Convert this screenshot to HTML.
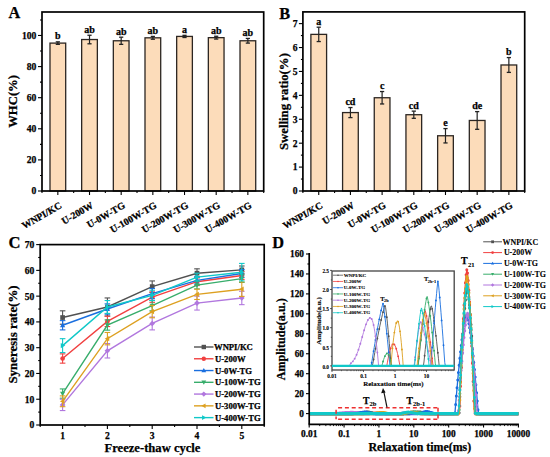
<!DOCTYPE html>
<html><head><meta charset="utf-8"><style>
html,body{margin:0;padding:0;background:#fff;}
svg{display:block;}
text{font-family:"Liberation Serif", serif;stroke:#000;stroke-width:0.25px;paint-order:stroke;}
</style></head><body>
<svg width="550" height="457" viewBox="0 0 550 457">
<rect width="550" height="457" fill="#fff"/>
<rect x="49.99" y="43.1" width="15.7" height="147.9" fill="#FCDCBA" stroke="#2c2622" stroke-width="1.3"/>
<line x1="57.84" y1="41.86" x2="57.84" y2="44.35" stroke="#222" stroke-width="1.2" />
<line x1="55.74" y1="41.86" x2="59.94" y2="41.86" stroke="#222" stroke-width="1.3" />
<line x1="55.74" y1="44.35" x2="59.94" y2="44.35" stroke="#222" stroke-width="1.3" />
<text x="57.84" y="39.26" font-size="10" text-anchor="middle" font-weight="bold" fill="#000" >b</text>
<rect x="81.66" y="39.53" width="15.7" height="151.47" fill="#FCDCBA" stroke="#2c2622" stroke-width="1.3"/>
<line x1="89.51" y1="35.25" x2="89.51" y2="43.8" stroke="#222" stroke-width="1.2" />
<line x1="87.41" y1="35.25" x2="91.61" y2="35.25" stroke="#222" stroke-width="1.3" />
<line x1="87.41" y1="43.8" x2="91.61" y2="43.8" stroke="#222" stroke-width="1.3" />
<text x="89.51" y="32.65" font-size="10" text-anchor="middle" font-weight="bold" fill="#000" >ab</text>
<rect x="113.33" y="40.77" width="15.7" height="150.23" fill="#FCDCBA" stroke="#2c2622" stroke-width="1.3"/>
<line x1="121.18" y1="37.19" x2="121.18" y2="44.35" stroke="#222" stroke-width="1.2" />
<line x1="119.08" y1="37.19" x2="123.28" y2="37.19" stroke="#222" stroke-width="1.3" />
<line x1="119.08" y1="44.35" x2="123.28" y2="44.35" stroke="#222" stroke-width="1.3" />
<text x="121.18" y="34.59" font-size="10" text-anchor="middle" font-weight="bold" fill="#000" >ab</text>
<rect x="145" y="37.82" width="15.7" height="153.18" fill="#FCDCBA" stroke="#2c2622" stroke-width="1.3"/>
<line x1="152.85" y1="36.42" x2="152.85" y2="39.22" stroke="#222" stroke-width="1.2" />
<line x1="150.75" y1="36.42" x2="154.95" y2="36.42" stroke="#222" stroke-width="1.3" />
<line x1="150.75" y1="39.22" x2="154.95" y2="39.22" stroke="#222" stroke-width="1.3" />
<text x="152.85" y="33.82" font-size="10" text-anchor="middle" font-weight="bold" fill="#000" >ab</text>
<rect x="176.67" y="36.42" width="15.7" height="154.58" fill="#FCDCBA" stroke="#2c2622" stroke-width="1.3"/>
<line x1="184.52" y1="35.33" x2="184.52" y2="37.5" stroke="#222" stroke-width="1.2" />
<line x1="182.42" y1="35.33" x2="186.62" y2="35.33" stroke="#222" stroke-width="1.3" />
<line x1="182.42" y1="37.5" x2="186.62" y2="37.5" stroke="#222" stroke-width="1.3" />
<text x="184.52" y="32.73" font-size="10" text-anchor="middle" font-weight="bold" fill="#000" >a</text>
<rect x="208.34" y="37.66" width="15.7" height="153.34" fill="#FCDCBA" stroke="#2c2622" stroke-width="1.3"/>
<line x1="216.19" y1="36.26" x2="216.19" y2="39.06" stroke="#222" stroke-width="1.2" />
<line x1="214.09" y1="36.26" x2="218.29" y2="36.26" stroke="#222" stroke-width="1.3" />
<line x1="214.09" y1="39.06" x2="218.29" y2="39.06" stroke="#222" stroke-width="1.3" />
<text x="216.19" y="33.66" font-size="10" text-anchor="middle" font-weight="bold" fill="#000" >ab</text>
<rect x="240.01" y="40.77" width="15.7" height="150.23" fill="#FCDCBA" stroke="#2c2622" stroke-width="1.3"/>
<line x1="247.86" y1="38.44" x2="247.86" y2="43.1" stroke="#222" stroke-width="1.2" />
<line x1="245.76" y1="38.44" x2="249.96" y2="38.44" stroke="#222" stroke-width="1.3" />
<line x1="245.76" y1="43.1" x2="249.96" y2="43.1" stroke="#222" stroke-width="1.3" />
<text x="247.86" y="35.84" font-size="10" text-anchor="middle" font-weight="bold" fill="#000" >ab</text>
<rect x="42" y="12" width="221.7" height="179" fill="none" stroke="#000" stroke-width="1.7"/>
<line x1="38" y1="191" x2="42" y2="191" stroke="#000" stroke-width="1.1" />
<text x="36.3" y="194.4" font-size="9.6" text-anchor="end" font-weight="bold" fill="#000" >0</text>
<line x1="40" y1="175.45" x2="42" y2="175.45" stroke="#000" stroke-width="1.1" />
<line x1="38" y1="159.9" x2="42" y2="159.9" stroke="#000" stroke-width="1.1" />
<text x="36.3" y="163.3" font-size="9.6" text-anchor="end" font-weight="bold" fill="#000" >20</text>
<line x1="40" y1="144.34" x2="42" y2="144.34" stroke="#000" stroke-width="1.1" />
<line x1="38" y1="128.79" x2="42" y2="128.79" stroke="#000" stroke-width="1.1" />
<text x="36.3" y="132.19" font-size="9.6" text-anchor="end" font-weight="bold" fill="#000" >40</text>
<line x1="40" y1="113.24" x2="42" y2="113.24" stroke="#000" stroke-width="1.1" />
<line x1="38" y1="97.69" x2="42" y2="97.69" stroke="#000" stroke-width="1.1" />
<text x="36.3" y="101.09" font-size="9.6" text-anchor="end" font-weight="bold" fill="#000" >60</text>
<line x1="40" y1="82.14" x2="42" y2="82.14" stroke="#000" stroke-width="1.1" />
<line x1="38" y1="66.59" x2="42" y2="66.59" stroke="#000" stroke-width="1.1" />
<text x="36.3" y="69.99" font-size="9.6" text-anchor="end" font-weight="bold" fill="#000" >80</text>
<line x1="40" y1="51.03" x2="42" y2="51.03" stroke="#000" stroke-width="1.1" />
<line x1="38" y1="35.48" x2="42" y2="35.48" stroke="#000" stroke-width="1.1" />
<text x="36.3" y="38.88" font-size="9.6" text-anchor="end" font-weight="bold" fill="#000" >100</text>
<line x1="40" y1="19.93" x2="42" y2="19.93" stroke="#000" stroke-width="1.1" />
<line x1="42" y1="191" x2="42" y2="193" stroke="#000" stroke-width="1.1" />
<line x1="73.67" y1="191" x2="73.67" y2="193" stroke="#000" stroke-width="1.1" />
<line x1="105.34" y1="191" x2="105.34" y2="193" stroke="#000" stroke-width="1.1" />
<line x1="137.01" y1="191" x2="137.01" y2="193" stroke="#000" stroke-width="1.1" />
<line x1="168.69" y1="191" x2="168.69" y2="193" stroke="#000" stroke-width="1.1" />
<line x1="200.36" y1="191" x2="200.36" y2="193" stroke="#000" stroke-width="1.1" />
<line x1="232.03" y1="191" x2="232.03" y2="193" stroke="#000" stroke-width="1.1" />
<line x1="263.7" y1="191" x2="263.7" y2="193" stroke="#000" stroke-width="1.1" />
<line x1="57.84" y1="191" x2="57.84" y2="195" stroke="#000" stroke-width="1.1" />
<text transform="translate(62.44,207.3) rotate(-30)" font-size="9.8" text-anchor="end" font-weight="bold">WNPI/KC</text>
<line x1="89.51" y1="191" x2="89.51" y2="195" stroke="#000" stroke-width="1.1" />
<text transform="translate(94.11,207.3) rotate(-30)" font-size="9.8" text-anchor="end" font-weight="bold">U-200W</text>
<line x1="121.18" y1="191" x2="121.18" y2="195" stroke="#000" stroke-width="1.1" />
<text transform="translate(125.78,207.3) rotate(-30)" font-size="9.8" text-anchor="end" font-weight="bold">U-0W-TG</text>
<line x1="152.85" y1="191" x2="152.85" y2="195" stroke="#000" stroke-width="1.1" />
<text transform="translate(157.45,207.3) rotate(-30)" font-size="9.8" text-anchor="end" font-weight="bold">U-100W-TG</text>
<line x1="184.52" y1="191" x2="184.52" y2="195" stroke="#000" stroke-width="1.1" />
<text transform="translate(189.12,207.3) rotate(-30)" font-size="9.8" text-anchor="end" font-weight="bold">U-200W-TG</text>
<line x1="216.19" y1="191" x2="216.19" y2="195" stroke="#000" stroke-width="1.1" />
<text transform="translate(220.79,207.3) rotate(-30)" font-size="9.8" text-anchor="end" font-weight="bold">U-300W-TG</text>
<line x1="247.86" y1="191" x2="247.86" y2="195" stroke="#000" stroke-width="1.1" />
<text transform="translate(252.46,207.3) rotate(-30)" font-size="9.8" text-anchor="end" font-weight="bold">U-400W-TG</text>
<text transform="translate(16.7,101.4) rotate(-90)" font-size="12.7" text-anchor="middle" font-weight="bold">WHC(%)</text>
<text x="8.6" y="17.8" font-size="16.3" text-anchor="start" font-weight="bold" fill="#000" >A</text>
<rect x="310.89" y="34.38" width="15.7" height="156.62" fill="#FCDCBA" stroke="#2c2622" stroke-width="1.3"/>
<line x1="318.74" y1="27.2" x2="318.74" y2="41.55" stroke="#222" stroke-width="1.2" />
<line x1="316.64" y1="27.2" x2="320.84" y2="27.2" stroke="#222" stroke-width="1.3" />
<line x1="316.64" y1="41.55" x2="320.84" y2="41.55" stroke="#222" stroke-width="1.3" />
<text x="318.74" y="24.6" font-size="10" text-anchor="middle" font-weight="bold" fill="#000" >a</text>
<rect x="342.58" y="112.57" width="15.7" height="78.43" fill="#FCDCBA" stroke="#2c2622" stroke-width="1.3"/>
<line x1="350.43" y1="107.55" x2="350.43" y2="117.59" stroke="#222" stroke-width="1.2" />
<line x1="348.33" y1="107.55" x2="352.53" y2="107.55" stroke="#222" stroke-width="1.3" />
<line x1="348.33" y1="117.59" x2="352.53" y2="117.59" stroke="#222" stroke-width="1.3" />
<text x="350.43" y="104.95" font-size="10" text-anchor="middle" font-weight="bold" fill="#000" >cd</text>
<rect x="374.26" y="97.74" width="15.7" height="93.26" fill="#FCDCBA" stroke="#2c2622" stroke-width="1.3"/>
<line x1="382.11" y1="91.53" x2="382.11" y2="103.96" stroke="#222" stroke-width="1.2" />
<line x1="380.01" y1="91.53" x2="384.21" y2="91.53" stroke="#222" stroke-width="1.3" />
<line x1="380.01" y1="103.96" x2="384.21" y2="103.96" stroke="#222" stroke-width="1.3" />
<text x="382.11" y="88.93" font-size="10" text-anchor="middle" font-weight="bold" fill="#000" >c</text>
<rect x="405.95" y="114.72" width="15.7" height="76.28" fill="#FCDCBA" stroke="#2c2622" stroke-width="1.3"/>
<line x1="413.8" y1="111.13" x2="413.8" y2="118.31" stroke="#222" stroke-width="1.2" />
<line x1="411.7" y1="111.13" x2="415.9" y2="111.13" stroke="#222" stroke-width="1.3" />
<line x1="411.7" y1="118.31" x2="415.9" y2="118.31" stroke="#222" stroke-width="1.3" />
<text x="413.8" y="108.53" font-size="10" text-anchor="middle" font-weight="bold" fill="#000" >cd</text>
<rect x="437.64" y="135.76" width="15.7" height="55.24" fill="#FCDCBA" stroke="#2c2622" stroke-width="1.3"/>
<line x1="445.49" y1="128.59" x2="445.49" y2="142.94" stroke="#222" stroke-width="1.2" />
<line x1="443.39" y1="128.59" x2="447.59" y2="128.59" stroke="#222" stroke-width="1.3" />
<line x1="443.39" y1="142.94" x2="447.59" y2="142.94" stroke="#222" stroke-width="1.3" />
<text x="445.49" y="125.99" font-size="10" text-anchor="middle" font-weight="bold" fill="#000" >e</text>
<rect x="469.32" y="120.46" width="15.7" height="70.54" fill="#FCDCBA" stroke="#2c2622" stroke-width="1.3"/>
<line x1="477.17" y1="111.61" x2="477.17" y2="129.31" stroke="#222" stroke-width="1.2" />
<line x1="475.07" y1="111.61" x2="479.27" y2="111.61" stroke="#222" stroke-width="1.3" />
<line x1="475.07" y1="129.31" x2="479.27" y2="129.31" stroke="#222" stroke-width="1.3" />
<text x="477.17" y="109.01" font-size="10" text-anchor="middle" font-weight="bold" fill="#000" >de</text>
<rect x="501.01" y="64.98" width="15.7" height="126.02" fill="#FCDCBA" stroke="#2c2622" stroke-width="1.3"/>
<line x1="508.86" y1="57.57" x2="508.86" y2="72.4" stroke="#222" stroke-width="1.2" />
<line x1="506.76" y1="57.57" x2="510.96" y2="57.57" stroke="#222" stroke-width="1.3" />
<line x1="506.76" y1="72.4" x2="510.96" y2="72.4" stroke="#222" stroke-width="1.3" />
<text x="508.86" y="54.97" font-size="10" text-anchor="middle" font-weight="bold" fill="#000" >b</text>
<rect x="302.9" y="11.9" width="221.8" height="179.1" fill="none" stroke="#000" stroke-width="1.7"/>
<line x1="298.9" y1="191" x2="302.9" y2="191" stroke="#000" stroke-width="1.1" />
<text x="297.6" y="194.4" font-size="9.6" text-anchor="end" font-weight="bold" fill="#000" >0</text>
<line x1="300.9" y1="179.04" x2="302.9" y2="179.04" stroke="#000" stroke-width="1.1" />
<line x1="298.9" y1="167.09" x2="302.9" y2="167.09" stroke="#000" stroke-width="1.1" />
<text x="297.6" y="170.49" font-size="9.6" text-anchor="end" font-weight="bold" fill="#000" >1</text>
<line x1="300.9" y1="155.13" x2="302.9" y2="155.13" stroke="#000" stroke-width="1.1" />
<line x1="298.9" y1="143.18" x2="302.9" y2="143.18" stroke="#000" stroke-width="1.1" />
<text x="297.6" y="146.58" font-size="9.6" text-anchor="end" font-weight="bold" fill="#000" >2</text>
<line x1="300.9" y1="131.22" x2="302.9" y2="131.22" stroke="#000" stroke-width="1.1" />
<line x1="298.9" y1="119.26" x2="302.9" y2="119.26" stroke="#000" stroke-width="1.1" />
<text x="297.6" y="122.66" font-size="9.6" text-anchor="end" font-weight="bold" fill="#000" >3</text>
<line x1="300.9" y1="107.31" x2="302.9" y2="107.31" stroke="#000" stroke-width="1.1" />
<line x1="298.9" y1="95.35" x2="302.9" y2="95.35" stroke="#000" stroke-width="1.1" />
<text x="297.6" y="98.75" font-size="9.6" text-anchor="end" font-weight="bold" fill="#000" >4</text>
<line x1="300.9" y1="83.4" x2="302.9" y2="83.4" stroke="#000" stroke-width="1.1" />
<line x1="298.9" y1="71.44" x2="302.9" y2="71.44" stroke="#000" stroke-width="1.1" />
<text x="297.6" y="74.84" font-size="9.6" text-anchor="end" font-weight="bold" fill="#000" >5</text>
<line x1="300.9" y1="59.48" x2="302.9" y2="59.48" stroke="#000" stroke-width="1.1" />
<line x1="298.9" y1="47.53" x2="302.9" y2="47.53" stroke="#000" stroke-width="1.1" />
<text x="297.6" y="50.93" font-size="9.6" text-anchor="end" font-weight="bold" fill="#000" >6</text>
<line x1="300.9" y1="35.57" x2="302.9" y2="35.57" stroke="#000" stroke-width="1.1" />
<line x1="298.9" y1="23.62" x2="302.9" y2="23.62" stroke="#000" stroke-width="1.1" />
<text x="297.6" y="27.02" font-size="9.6" text-anchor="end" font-weight="bold" fill="#000" >7</text>
<line x1="302.9" y1="191" x2="302.9" y2="193" stroke="#000" stroke-width="1.1" />
<line x1="334.59" y1="191" x2="334.59" y2="193" stroke="#000" stroke-width="1.1" />
<line x1="366.27" y1="191" x2="366.27" y2="193" stroke="#000" stroke-width="1.1" />
<line x1="397.96" y1="191" x2="397.96" y2="193" stroke="#000" stroke-width="1.1" />
<line x1="429.64" y1="191" x2="429.64" y2="193" stroke="#000" stroke-width="1.1" />
<line x1="461.33" y1="191" x2="461.33" y2="193" stroke="#000" stroke-width="1.1" />
<line x1="493.01" y1="191" x2="493.01" y2="193" stroke="#000" stroke-width="1.1" />
<line x1="524.7" y1="191" x2="524.7" y2="193" stroke="#000" stroke-width="1.1" />
<line x1="318.74" y1="191" x2="318.74" y2="195" stroke="#000" stroke-width="1.1" />
<text transform="translate(323.34,207.3) rotate(-30)" font-size="9.8" text-anchor="end" font-weight="bold">WNPI/KC</text>
<line x1="350.43" y1="191" x2="350.43" y2="195" stroke="#000" stroke-width="1.1" />
<text transform="translate(355.03,207.3) rotate(-30)" font-size="9.8" text-anchor="end" font-weight="bold">U-200W</text>
<line x1="382.11" y1="191" x2="382.11" y2="195" stroke="#000" stroke-width="1.1" />
<text transform="translate(386.71,207.3) rotate(-30)" font-size="9.8" text-anchor="end" font-weight="bold">U-0W-TG</text>
<line x1="413.8" y1="191" x2="413.8" y2="195" stroke="#000" stroke-width="1.1" />
<text transform="translate(418.4,207.3) rotate(-30)" font-size="9.8" text-anchor="end" font-weight="bold">U-100W-TG</text>
<line x1="445.49" y1="191" x2="445.49" y2="195" stroke="#000" stroke-width="1.1" />
<text transform="translate(450.09,207.3) rotate(-30)" font-size="9.8" text-anchor="end" font-weight="bold">U-200W-TG</text>
<line x1="477.17" y1="191" x2="477.17" y2="195" stroke="#000" stroke-width="1.1" />
<text transform="translate(481.77,207.3) rotate(-30)" font-size="9.8" text-anchor="end" font-weight="bold">U-300W-TG</text>
<line x1="508.86" y1="191" x2="508.86" y2="195" stroke="#000" stroke-width="1.1" />
<text transform="translate(513.46,207.3) rotate(-30)" font-size="9.8" text-anchor="end" font-weight="bold">U-400W-TG</text>
<text transform="translate(288.2,101.6) rotate(-90)" font-size="12.8" text-anchor="middle" font-weight="bold">Swelling ratio(%)</text>
<text x="279.3" y="18.6" font-size="16.3" text-anchor="start" font-weight="bold" fill="#000" >B</text>
<polyline points="62.6,317.53 107.4,306.97 152.2,286.61 197,273.21 241.8,269.86" fill="none" stroke="#515151" stroke-width="1.4"/>
<line x1="62.6" y1="310.83" x2="62.6" y2="324.23" stroke="#515151" stroke-width="1.1" />
<line x1="59.8" y1="310.83" x2="65.4" y2="310.83" stroke="#515151" stroke-width="1.1" />
<line x1="59.8" y1="324.23" x2="65.4" y2="324.23" stroke="#515151" stroke-width="1.1" />
<rect x="60.25" y="315.18" width="4.7" height="4.7" fill="#515151"/>
<line x1="107.4" y1="297.95" x2="107.4" y2="315.99" stroke="#515151" stroke-width="1.1" />
<line x1="104.6" y1="297.95" x2="110.2" y2="297.95" stroke="#515151" stroke-width="1.1" />
<line x1="104.6" y1="315.99" x2="110.2" y2="315.99" stroke="#515151" stroke-width="1.1" />
<rect x="105.05" y="304.62" width="4.7" height="4.7" fill="#515151"/>
<line x1="152.2" y1="280.94" x2="152.2" y2="292.28" stroke="#515151" stroke-width="1.1" />
<line x1="149.4" y1="280.94" x2="155" y2="280.94" stroke="#515151" stroke-width="1.1" />
<line x1="149.4" y1="292.28" x2="155" y2="292.28" stroke="#515151" stroke-width="1.1" />
<rect x="149.85" y="284.26" width="4.7" height="4.7" fill="#515151"/>
<line x1="197" y1="268.83" x2="197" y2="277.59" stroke="#515151" stroke-width="1.1" />
<line x1="194.2" y1="268.83" x2="199.8" y2="268.83" stroke="#515151" stroke-width="1.1" />
<line x1="194.2" y1="277.59" x2="199.8" y2="277.59" stroke="#515151" stroke-width="1.1" />
<rect x="194.65" y="270.86" width="4.7" height="4.7" fill="#515151"/>
<line x1="241.8" y1="265.99" x2="241.8" y2="273.72" stroke="#515151" stroke-width="1.1" />
<line x1="239" y1="265.99" x2="244.6" y2="265.99" stroke="#515151" stroke-width="1.1" />
<line x1="239" y1="273.72" x2="244.6" y2="273.72" stroke="#515151" stroke-width="1.1" />
<rect x="239.45" y="267.51" width="4.7" height="4.7" fill="#515151"/>
<polyline points="62.6,358.51 107.4,321.4 152.2,297.17 197,281.71 241.8,275.53" fill="none" stroke="#F14040" stroke-width="1.4"/>
<line x1="62.6" y1="353.87" x2="62.6" y2="363.15" stroke="#F14040" stroke-width="1.1" />
<line x1="59.8" y1="353.87" x2="65.4" y2="353.87" stroke="#F14040" stroke-width="1.1" />
<line x1="59.8" y1="363.15" x2="65.4" y2="363.15" stroke="#F14040" stroke-width="1.1" />
<circle cx="62.6" cy="358.51" r="2.35" fill="#F14040"/>
<line x1="107.4" y1="316.24" x2="107.4" y2="326.55" stroke="#F14040" stroke-width="1.1" />
<line x1="104.6" y1="316.24" x2="110.2" y2="316.24" stroke="#F14040" stroke-width="1.1" />
<line x1="104.6" y1="326.55" x2="110.2" y2="326.55" stroke="#F14040" stroke-width="1.1" />
<circle cx="107.4" cy="321.4" r="2.35" fill="#F14040"/>
<line x1="152.2" y1="292.02" x2="152.2" y2="302.33" stroke="#F14040" stroke-width="1.1" />
<line x1="149.4" y1="292.02" x2="155" y2="292.02" stroke="#F14040" stroke-width="1.1" />
<line x1="149.4" y1="302.33" x2="155" y2="302.33" stroke="#F14040" stroke-width="1.1" />
<circle cx="152.2" cy="297.17" r="2.35" fill="#F14040"/>
<line x1="197" y1="277.85" x2="197" y2="285.58" stroke="#F14040" stroke-width="1.1" />
<line x1="194.2" y1="277.85" x2="199.8" y2="277.85" stroke="#F14040" stroke-width="1.1" />
<line x1="194.2" y1="285.58" x2="199.8" y2="285.58" stroke="#F14040" stroke-width="1.1" />
<circle cx="197" cy="281.71" r="2.35" fill="#F14040"/>
<line x1="241.8" y1="271.66" x2="241.8" y2="279.39" stroke="#F14040" stroke-width="1.1" />
<line x1="239" y1="271.66" x2="244.6" y2="271.66" stroke="#F14040" stroke-width="1.1" />
<line x1="239" y1="279.39" x2="244.6" y2="279.39" stroke="#F14040" stroke-width="1.1" />
<circle cx="241.8" cy="275.53" r="2.35" fill="#F14040"/>
<polyline points="62.6,325.26 107.4,309.03 152.2,293.57 197,280.42 241.8,273.46" fill="none" stroke="#1A6FDF" stroke-width="1.4"/>
<line x1="62.6" y1="320.63" x2="62.6" y2="329.9" stroke="#1A6FDF" stroke-width="1.1" />
<line x1="59.8" y1="320.63" x2="65.4" y2="320.63" stroke="#1A6FDF" stroke-width="1.1" />
<line x1="59.8" y1="329.9" x2="65.4" y2="329.9" stroke="#1A6FDF" stroke-width="1.1" />
<polygon points="62.6,322.56 65.19,327.14 60.02,327.14" fill="#1A6FDF"/>
<line x1="107.4" y1="303.87" x2="107.4" y2="314.18" stroke="#1A6FDF" stroke-width="1.1" />
<line x1="104.6" y1="303.87" x2="110.2" y2="303.87" stroke="#1A6FDF" stroke-width="1.1" />
<line x1="104.6" y1="314.18" x2="110.2" y2="314.18" stroke="#1A6FDF" stroke-width="1.1" />
<polygon points="107.4,306.33 109.98,310.91 104.82,310.91" fill="#1A6FDF"/>
<line x1="152.2" y1="288.41" x2="152.2" y2="298.72" stroke="#1A6FDF" stroke-width="1.1" />
<line x1="149.4" y1="288.41" x2="155" y2="288.41" stroke="#1A6FDF" stroke-width="1.1" />
<line x1="149.4" y1="298.72" x2="155" y2="298.72" stroke="#1A6FDF" stroke-width="1.1" />
<polygon points="152.2,290.86 154.78,295.45 149.61,295.45" fill="#1A6FDF"/>
<line x1="197" y1="276.56" x2="197" y2="284.29" stroke="#1A6FDF" stroke-width="1.1" />
<line x1="194.2" y1="276.56" x2="199.8" y2="276.56" stroke="#1A6FDF" stroke-width="1.1" />
<line x1="194.2" y1="284.29" x2="199.8" y2="284.29" stroke="#1A6FDF" stroke-width="1.1" />
<polygon points="197,277.72 199.59,282.3 194.41,282.3" fill="#1A6FDF"/>
<line x1="241.8" y1="269.6" x2="241.8" y2="277.33" stroke="#1A6FDF" stroke-width="1.1" />
<line x1="239" y1="269.6" x2="244.6" y2="269.6" stroke="#1A6FDF" stroke-width="1.1" />
<line x1="239" y1="277.33" x2="244.6" y2="277.33" stroke="#1A6FDF" stroke-width="1.1" />
<polygon points="241.8,270.76 244.39,275.34 239.22,275.34" fill="#1A6FDF"/>
<polyline points="62.6,393.56 107.4,325.01 152.2,305.68 197,285.06 241.8,278.62" fill="none" stroke="#37AD6B" stroke-width="1.4"/>
<line x1="62.6" y1="388.92" x2="62.6" y2="398.2" stroke="#37AD6B" stroke-width="1.1" />
<line x1="59.8" y1="388.92" x2="65.4" y2="388.92" stroke="#37AD6B" stroke-width="1.1" />
<line x1="59.8" y1="398.2" x2="65.4" y2="398.2" stroke="#37AD6B" stroke-width="1.1" />
<polygon points="62.6,396.26 65.19,391.68 60.02,391.68" fill="#37AD6B"/>
<line x1="107.4" y1="319.85" x2="107.4" y2="330.16" stroke="#37AD6B" stroke-width="1.1" />
<line x1="104.6" y1="319.85" x2="110.2" y2="319.85" stroke="#37AD6B" stroke-width="1.1" />
<line x1="104.6" y1="330.16" x2="110.2" y2="330.16" stroke="#37AD6B" stroke-width="1.1" />
<polygon points="107.4,327.71 109.98,323.13 104.82,323.13" fill="#37AD6B"/>
<line x1="152.2" y1="300.52" x2="152.2" y2="310.83" stroke="#37AD6B" stroke-width="1.1" />
<line x1="149.4" y1="300.52" x2="155" y2="300.52" stroke="#37AD6B" stroke-width="1.1" />
<line x1="149.4" y1="310.83" x2="155" y2="310.83" stroke="#37AD6B" stroke-width="1.1" />
<polygon points="152.2,308.38 154.78,303.8 149.61,303.8" fill="#37AD6B"/>
<line x1="197" y1="281.2" x2="197" y2="288.93" stroke="#37AD6B" stroke-width="1.1" />
<line x1="194.2" y1="281.2" x2="199.8" y2="281.2" stroke="#37AD6B" stroke-width="1.1" />
<line x1="194.2" y1="288.93" x2="199.8" y2="288.93" stroke="#37AD6B" stroke-width="1.1" />
<polygon points="197,287.76 199.59,283.18 194.41,283.18" fill="#37AD6B"/>
<line x1="241.8" y1="274.75" x2="241.8" y2="282.48" stroke="#37AD6B" stroke-width="1.1" />
<line x1="239" y1="274.75" x2="244.6" y2="274.75" stroke="#37AD6B" stroke-width="1.1" />
<line x1="239" y1="282.48" x2="244.6" y2="282.48" stroke="#37AD6B" stroke-width="1.1" />
<polygon points="241.8,281.32 244.39,276.74 239.22,276.74" fill="#37AD6B"/>
<polyline points="62.6,404.9 107.4,350.78 152.2,323.46 197,303.1 241.8,297.95" fill="none" stroke="#B177DE" stroke-width="1.4"/>
<line x1="62.6" y1="399.23" x2="62.6" y2="410.57" stroke="#B177DE" stroke-width="1.1" />
<line x1="59.8" y1="399.23" x2="65.4" y2="399.23" stroke="#B177DE" stroke-width="1.1" />
<line x1="59.8" y1="410.57" x2="65.4" y2="410.57" stroke="#B177DE" stroke-width="1.1" />
<polygon points="62.6,402.08 65.42,404.9 62.6,407.72 59.78,404.9" fill="#B177DE"/>
<line x1="107.4" y1="343.56" x2="107.4" y2="357.99" stroke="#B177DE" stroke-width="1.1" />
<line x1="104.6" y1="343.56" x2="110.2" y2="343.56" stroke="#B177DE" stroke-width="1.1" />
<line x1="104.6" y1="357.99" x2="110.2" y2="357.99" stroke="#B177DE" stroke-width="1.1" />
<polygon points="107.4,347.96 110.22,350.78 107.4,353.6 104.58,350.78" fill="#B177DE"/>
<line x1="152.2" y1="317.02" x2="152.2" y2="329.9" stroke="#B177DE" stroke-width="1.1" />
<line x1="149.4" y1="317.02" x2="155" y2="317.02" stroke="#B177DE" stroke-width="1.1" />
<line x1="149.4" y1="329.9" x2="155" y2="329.9" stroke="#B177DE" stroke-width="1.1" />
<polygon points="152.2,320.64 155.02,323.46 152.2,326.28 149.38,323.46" fill="#B177DE"/>
<line x1="197" y1="296.14" x2="197" y2="310.06" stroke="#B177DE" stroke-width="1.1" />
<line x1="194.2" y1="296.14" x2="199.8" y2="296.14" stroke="#B177DE" stroke-width="1.1" />
<line x1="194.2" y1="310.06" x2="199.8" y2="310.06" stroke="#B177DE" stroke-width="1.1" />
<polygon points="197,300.28 199.82,303.1 197,305.92 194.18,303.1" fill="#B177DE"/>
<line x1="241.8" y1="291.25" x2="241.8" y2="304.65" stroke="#B177DE" stroke-width="1.1" />
<line x1="239" y1="291.25" x2="244.6" y2="291.25" stroke="#B177DE" stroke-width="1.1" />
<line x1="239" y1="304.65" x2="244.6" y2="304.65" stroke="#B177DE" stroke-width="1.1" />
<polygon points="241.8,295.13 244.62,297.95 241.8,300.77 238.98,297.95" fill="#B177DE"/>
<polyline points="62.6,401.29 107.4,338.67 152.2,311.61 197,294.34 241.8,289.18" fill="none" stroke="#DDA020" stroke-width="1.4"/>
<line x1="62.6" y1="395.88" x2="62.6" y2="406.7" stroke="#DDA020" stroke-width="1.1" />
<line x1="59.8" y1="395.88" x2="65.4" y2="395.88" stroke="#DDA020" stroke-width="1.1" />
<line x1="59.8" y1="406.7" x2="65.4" y2="406.7" stroke="#DDA020" stroke-width="1.1" />
<polygon points="59.9,401.29 64.48,398.71 64.48,403.88" fill="#DDA020"/>
<line x1="107.4" y1="332.48" x2="107.4" y2="344.85" stroke="#DDA020" stroke-width="1.1" />
<line x1="104.6" y1="332.48" x2="110.2" y2="332.48" stroke="#DDA020" stroke-width="1.1" />
<line x1="104.6" y1="344.85" x2="110.2" y2="344.85" stroke="#DDA020" stroke-width="1.1" />
<polygon points="104.7,338.67 109.28,336.08 109.28,341.25" fill="#DDA020"/>
<line x1="152.2" y1="305.42" x2="152.2" y2="317.79" stroke="#DDA020" stroke-width="1.1" />
<line x1="149.4" y1="305.42" x2="155" y2="305.42" stroke="#DDA020" stroke-width="1.1" />
<line x1="149.4" y1="317.79" x2="155" y2="317.79" stroke="#DDA020" stroke-width="1.1" />
<polygon points="149.5,311.61 154.08,309.02 154.08,314.19" fill="#DDA020"/>
<line x1="197" y1="289.18" x2="197" y2="299.49" stroke="#DDA020" stroke-width="1.1" />
<line x1="194.2" y1="289.18" x2="199.8" y2="289.18" stroke="#DDA020" stroke-width="1.1" />
<line x1="194.2" y1="299.49" x2="199.8" y2="299.49" stroke="#DDA020" stroke-width="1.1" />
<polygon points="194.3,294.34 198.88,291.75 198.88,296.92" fill="#DDA020"/>
<line x1="241.8" y1="281.97" x2="241.8" y2="296.4" stroke="#DDA020" stroke-width="1.1" />
<line x1="239" y1="281.97" x2="244.6" y2="281.97" stroke="#DDA020" stroke-width="1.1" />
<line x1="239" y1="296.4" x2="244.6" y2="296.4" stroke="#DDA020" stroke-width="1.1" />
<polygon points="239.1,289.18 243.68,286.6 243.68,291.77" fill="#DDA020"/>
<polyline points="62.6,345.62 107.4,306.97 152.2,295.37 197,277.07 241.8,272.18" fill="none" stroke="#10C8C8" stroke-width="1.4"/>
<line x1="62.6" y1="338.67" x2="62.6" y2="352.58" stroke="#10C8C8" stroke-width="1.1" />
<line x1="59.8" y1="338.67" x2="65.4" y2="338.67" stroke="#10C8C8" stroke-width="1.1" />
<line x1="59.8" y1="352.58" x2="65.4" y2="352.58" stroke="#10C8C8" stroke-width="1.1" />
<polygon points="65.3,345.62 60.72,343.04 60.72,348.21" fill="#10C8C8"/>
<line x1="107.4" y1="300.52" x2="107.4" y2="313.41" stroke="#10C8C8" stroke-width="1.1" />
<line x1="104.6" y1="300.52" x2="110.2" y2="300.52" stroke="#10C8C8" stroke-width="1.1" />
<line x1="104.6" y1="313.41" x2="110.2" y2="313.41" stroke="#10C8C8" stroke-width="1.1" />
<polygon points="110.1,306.97 105.52,304.38 105.52,309.55" fill="#10C8C8"/>
<line x1="152.2" y1="290.22" x2="152.2" y2="300.52" stroke="#10C8C8" stroke-width="1.1" />
<line x1="149.4" y1="290.22" x2="155" y2="290.22" stroke="#10C8C8" stroke-width="1.1" />
<line x1="149.4" y1="300.52" x2="155" y2="300.52" stroke="#10C8C8" stroke-width="1.1" />
<polygon points="154.9,295.37 150.32,292.78 150.32,297.95" fill="#10C8C8"/>
<line x1="197" y1="273.21" x2="197" y2="280.94" stroke="#10C8C8" stroke-width="1.1" />
<line x1="194.2" y1="273.21" x2="199.8" y2="273.21" stroke="#10C8C8" stroke-width="1.1" />
<line x1="194.2" y1="280.94" x2="199.8" y2="280.94" stroke="#10C8C8" stroke-width="1.1" />
<polygon points="199.7,277.07 195.12,274.49 195.12,279.66" fill="#10C8C8"/>
<line x1="241.8" y1="263.41" x2="241.8" y2="280.94" stroke="#10C8C8" stroke-width="1.1" />
<line x1="239" y1="263.41" x2="244.6" y2="263.41" stroke="#10C8C8" stroke-width="1.1" />
<line x1="239" y1="280.94" x2="244.6" y2="280.94" stroke="#10C8C8" stroke-width="1.1" />
<polygon points="244.5,272.18 239.92,269.59 239.92,274.76" fill="#10C8C8"/>
<rect x="40.2" y="244.6" width="224" height="180.4" fill="none" stroke="#000" stroke-width="1.7"/>
<line x1="36.2" y1="425" x2="40.2" y2="425" stroke="#000" stroke-width="1.1" />
<text x="34.3" y="428.4" font-size="9.6" text-anchor="end" font-weight="bold" fill="#000" >0</text>
<line x1="38.2" y1="412.11" x2="40.2" y2="412.11" stroke="#000" stroke-width="1.1" />
<line x1="36.2" y1="399.23" x2="40.2" y2="399.23" stroke="#000" stroke-width="1.1" />
<text x="34.3" y="402.63" font-size="9.6" text-anchor="end" font-weight="bold" fill="#000" >10</text>
<line x1="38.2" y1="386.34" x2="40.2" y2="386.34" stroke="#000" stroke-width="1.1" />
<line x1="36.2" y1="373.46" x2="40.2" y2="373.46" stroke="#000" stroke-width="1.1" />
<text x="34.3" y="376.86" font-size="9.6" text-anchor="end" font-weight="bold" fill="#000" >20</text>
<line x1="38.2" y1="360.57" x2="40.2" y2="360.57" stroke="#000" stroke-width="1.1" />
<line x1="36.2" y1="347.69" x2="40.2" y2="347.69" stroke="#000" stroke-width="1.1" />
<text x="34.3" y="351.09" font-size="9.6" text-anchor="end" font-weight="bold" fill="#000" >30</text>
<line x1="38.2" y1="334.8" x2="40.2" y2="334.8" stroke="#000" stroke-width="1.1" />
<line x1="36.2" y1="321.91" x2="40.2" y2="321.91" stroke="#000" stroke-width="1.1" />
<text x="34.3" y="325.31" font-size="9.6" text-anchor="end" font-weight="bold" fill="#000" >40</text>
<line x1="38.2" y1="309.03" x2="40.2" y2="309.03" stroke="#000" stroke-width="1.1" />
<line x1="36.2" y1="296.14" x2="40.2" y2="296.14" stroke="#000" stroke-width="1.1" />
<text x="34.3" y="299.54" font-size="9.6" text-anchor="end" font-weight="bold" fill="#000" >50</text>
<line x1="38.2" y1="283.26" x2="40.2" y2="283.26" stroke="#000" stroke-width="1.1" />
<line x1="36.2" y1="270.37" x2="40.2" y2="270.37" stroke="#000" stroke-width="1.1" />
<text x="34.3" y="273.77" font-size="9.6" text-anchor="end" font-weight="bold" fill="#000" >60</text>
<line x1="38.2" y1="257.49" x2="40.2" y2="257.49" stroke="#000" stroke-width="1.1" />
<line x1="36.2" y1="244.6" x2="40.2" y2="244.6" stroke="#000" stroke-width="1.1" />
<text x="34.3" y="248" font-size="9.6" text-anchor="end" font-weight="bold" fill="#000" >70</text>
<line x1="40.2" y1="425" x2="40.2" y2="427" stroke="#000" stroke-width="1.1" />
<line x1="62.6" y1="425" x2="62.6" y2="429" stroke="#000" stroke-width="1.1" />
<text x="62.6" y="439.4" font-size="9.6" text-anchor="middle" font-weight="bold" fill="#000" >1</text>
<line x1="85" y1="425" x2="85" y2="427" stroke="#000" stroke-width="1.1" />
<line x1="107.4" y1="425" x2="107.4" y2="429" stroke="#000" stroke-width="1.1" />
<text x="107.4" y="439.4" font-size="9.6" text-anchor="middle" font-weight="bold" fill="#000" >2</text>
<line x1="129.8" y1="425" x2="129.8" y2="427" stroke="#000" stroke-width="1.1" />
<line x1="152.2" y1="425" x2="152.2" y2="429" stroke="#000" stroke-width="1.1" />
<text x="152.2" y="439.4" font-size="9.6" text-anchor="middle" font-weight="bold" fill="#000" >3</text>
<line x1="174.6" y1="425" x2="174.6" y2="427" stroke="#000" stroke-width="1.1" />
<line x1="197" y1="425" x2="197" y2="429" stroke="#000" stroke-width="1.1" />
<text x="197" y="439.4" font-size="9.6" text-anchor="middle" font-weight="bold" fill="#000" >4</text>
<line x1="219.4" y1="425" x2="219.4" y2="427" stroke="#000" stroke-width="1.1" />
<line x1="241.8" y1="425" x2="241.8" y2="429" stroke="#000" stroke-width="1.1" />
<text x="241.8" y="439.4" font-size="9.6" text-anchor="middle" font-weight="bold" fill="#000" >5</text>
<line x1="264.2" y1="425" x2="264.2" y2="427" stroke="#000" stroke-width="1.1" />
<text transform="translate(16.7,334.5) rotate(-90)" font-size="12.9" text-anchor="middle" font-weight="bold">Syneresis rate(%)</text>
<text x="152.5" y="451.6" font-size="12.6" text-anchor="middle" font-weight="bold" fill="#000" >Freeze-thaw cycle</text>
<text x="8.5" y="248.1" font-size="16.6" text-anchor="start" font-weight="bold" fill="#000" >C</text>
<line x1="194" y1="347" x2="213.5" y2="347" stroke="#515151" stroke-width="1.4" />
<rect x="201.6" y="344.8" width="4.4" height="4.4" fill="#515151"/>
<text x="214" y="350.1" font-size="8.65" text-anchor="start" font-weight="bold" fill="#000" >WNPI/KC</text>
<line x1="194" y1="358.77" x2="213.5" y2="358.77" stroke="#F14040" stroke-width="1.4" />
<circle cx="203.8" cy="358.77" r="2.2" fill="#F14040"/>
<text x="215" y="361.87" font-size="8.65" text-anchor="start" font-weight="bold" fill="#000" >U-200W</text>
<line x1="194" y1="370.54" x2="213.5" y2="370.54" stroke="#1A6FDF" stroke-width="1.4" />
<polygon points="203.8,368.01 206.22,372.3 201.38,372.3" fill="#1A6FDF"/>
<text x="215" y="373.64" font-size="8.65" text-anchor="start" font-weight="bold" fill="#000" >U-0W-TG</text>
<line x1="194" y1="382.31" x2="213.5" y2="382.31" stroke="#37AD6B" stroke-width="1.4" />
<polygon points="203.8,384.84 206.22,380.55 201.38,380.55" fill="#37AD6B"/>
<text x="215" y="385.41" font-size="8.65" text-anchor="start" font-weight="bold" fill="#000" >U-100W-TG</text>
<line x1="194" y1="394.08" x2="213.5" y2="394.08" stroke="#B177DE" stroke-width="1.4" />
<polygon points="203.8,391.44 206.44,394.08 203.8,396.72 201.16,394.08" fill="#B177DE"/>
<text x="215" y="397.18" font-size="8.65" text-anchor="start" font-weight="bold" fill="#000" >U-200W-TG</text>
<line x1="194" y1="405.85" x2="213.5" y2="405.85" stroke="#DDA020" stroke-width="1.4" />
<polygon points="201.27,405.85 205.56,403.43 205.56,408.27" fill="#DDA020"/>
<text x="215" y="408.95" font-size="8.65" text-anchor="start" font-weight="bold" fill="#000" >U-300W-TG</text>
<line x1="194" y1="417.62" x2="213.5" y2="417.62" stroke="#10C8C8" stroke-width="1.4" />
<polygon points="206.33,417.62 202.04,415.2 202.04,420.04" fill="#10C8C8"/>
<text x="215" y="420.72" font-size="8.65" text-anchor="start" font-weight="bold" fill="#000" >U-400W-TG</text>
<polyline points="309.2,413.6 309.9,413.6 310.59,413.6 311.29,413.6 311.99,413.6 312.69,413.6 313.38,413.6 314.08,413.6 314.78,413.6 315.48,413.6 316.17,413.6 316.87,413.6 317.57,413.6 318.27,413.6 318.96,413.6 319.66,413.6 320.36,413.6 321.06,413.6 321.75,413.6 322.45,413.6 323.15,413.6 323.85,413.6 324.54,413.6 325.24,413.6 325.94,413.6 326.63,413.6 327.33,413.6 328.03,413.6 328.73,413.6 329.42,413.6 330.12,413.6 330.82,413.6 331.52,413.6 332.21,413.6 332.91,413.6 333.61,413.6 334.31,413.6 335,413.6 335.7,413.6 336.4,413.6 337.1,413.6 337.79,413.6 338.49,413.6 339.19,413.6 339.89,413.6 340.58,413.6 341.28,413.6 341.98,413.6 342.68,413.6 343.37,413.6 344.07,413.6 344.77,413.6 345.46,413.6 346.16,413.6 346.86,413.6 347.56,413.6 348.25,413.6 348.95,413.6 349.65,413.6 350.35,413.6 351.04,413.6 351.74,413.6 352.44,413.6 353.14,413.6 353.83,413.6 354.53,413.53 355.23,413.43 355.93,413.34 356.62,413.25 357.32,413.15 358.02,413.06 358.72,412.97 359.41,412.89 360.11,412.8 360.81,412.72 361.5,412.63 362.2,412.56 362.9,412.48 363.6,412.4 364.29,412.33 364.99,412.26 365.69,412.2 366.39,412.14 367.08,412.08 367.78,412.04 368.48,412.07 369.18,412.19 369.87,412.33 370.57,412.48 371.27,412.65 371.97,412.83 372.66,413.01 373.36,413.2 374.06,413.4 374.76,413.6 375.45,413.6 376.15,413.6 376.85,413.6 377.55,413.6 378.24,413.6 378.94,413.6 379.64,413.6 380.33,413.6 381.03,413.6 381.73,413.6 382.43,413.6 383.12,413.6 383.82,413.6 384.52,413.6 385.22,413.6 385.91,413.6 386.61,413.6 387.31,413.6 388.01,413.6 388.7,413.6 389.4,413.6 390.1,413.6 390.8,413.6 391.49,413.6 392.19,413.6 392.89,413.6 393.59,413.6 394.28,413.6 394.98,413.6 395.68,413.6 396.38,413.6 397.07,413.6 397.77,413.6 398.47,413.6 399.16,413.6 399.86,413.6 400.56,413.6 401.26,413.6 401.95,413.6 402.65,413.6 403.35,413.6 404.05,413.6 404.74,413.6 405.44,413.6 406.14,413.6 406.84,413.6 407.53,413.6 408.23,413.6 408.93,413.6 409.63,413.6 410.32,413.6 411.02,413.5 411.72,413.33 412.42,413.17 413.11,413.02 413.81,412.87 414.51,412.72 415.2,412.59 415.9,412.46 416.6,412.33 417.3,412.22 417.99,412.12 418.69,412.04 419.39,412.04 420.09,412.11 420.78,412.2 421.48,412.31 422.18,412.42 422.88,412.55 423.57,412.68 424.27,412.81 424.97,412.96 425.67,413.1 426.36,413.26 427.06,413.41 427.76,413.57 428.46,413.6 429.15,413.6 429.85,413.6 430.55,413.6 431.25,413.6 431.94,413.6 432.64,413.6 433.34,413.6 434.03,413.6 434.73,413.6 435.43,413.6 436.13,413.6 436.82,413.6 437.52,413.6 438.22,413.6 438.92,413.6 439.61,413.6 440.31,413.6 441.01,413.6 441.71,413.6 442.4,413.6 443.1,413.6 443.8,413.6 444.5,413.6 445.19,413.6 445.89,413.6 446.59,413.6 447.29,413.6 447.98,413.6 448.68,413.6 449.38,413.6 450.07,413.6 450.77,413.6 451.47,413.6 452.17,413.6 452.86,413.6 453.56,413.6 454.26,413.6 454.96,413.6 455.65,413.6 456.35,413.6 457.05,413.6 457.75,413.6 458.44,413.6 459.14,412.77 459.84,396.86 460.54,381.68 461.23,367.26 461.93,353.64 462.63,340.89 463.33,329.05 464.02,318.21 464.72,308.47 465.42,299.98 466.12,292.94 466.81,287.77 467.51,286.44 468.21,290.62 468.9,296.98 469.6,304.93 470.3,314.19 471,324.61 471.69,336.06 472.39,348.46 473.09,361.73 473.79,375.84 474.48,390.72 475.18,406.35 475.88,413.6 476.58,413.6 477.27,413.6 477.97,413.6 478.67,413.6 479.37,413.6 480.06,413.6 480.76,413.6 481.46,413.6 482.16,413.6 482.85,413.6 483.55,413.6 484.25,413.6 484.94,413.6 485.64,413.6 486.34,413.6 487.04,413.6 487.73,413.6 488.43,413.6 489.13,413.6 489.83,413.6 490.52,413.6 491.22,413.6 491.92,413.6 492.62,413.6 493.31,413.6 494.01,413.6 494.71,413.6 495.41,413.6 496.1,413.6 496.8,413.6 497.5,413.6 498.2,413.6 498.89,413.6 499.59,413.6 500.29,413.6 500.99,413.6 501.68,413.6 502.38,413.6 503.08,413.6 503.77,413.6 504.47,413.6 505.17,413.6 505.87,413.6 506.56,413.6 507.26,413.6 507.96,413.6 508.66,413.6 509.35,413.6 510.05,413.6 510.75,413.6 511.45,413.6 512.14,413.6 512.84,413.6 513.54,413.6 514.24,413.6 514.93,413.6 515.63,413.6 516.33,413.6 517.03,413.6 517.72,413.6 518.42,413.6" fill="none" stroke="#515151" stroke-width="1.3"/>
<path d="M309.2 413.6H353.83M374.76 413.6H410.32M428.46 413.6H458.44M475.88 413.6H518.42" stroke="#515151" stroke-width="3.3" fill="none"/>
<path d="M354.53 413.53h0M355.23 413.43h0M355.93 413.34h0M356.62 413.25h0M357.32 413.15h0M358.02 413.06h0M358.72 412.97h0M359.41 412.89h0M360.11 412.8h0M360.81 412.72h0M361.5 412.63h0M362.2 412.56h0M362.9 412.48h0M363.6 412.4h0M364.29 412.33h0M364.99 412.26h0M365.69 412.2h0M366.39 412.14h0M367.08 412.08h0M367.78 412.04h0M368.48 412.07h0M369.18 412.19h0M369.87 412.33h0M370.57 412.48h0M371.27 412.65h0M371.97 412.83h0M372.66 413.01h0M373.36 413.2h0M374.06 413.4h0M411.02 413.5h0M411.72 413.33h0M412.42 413.17h0M413.11 413.02h0M413.81 412.87h0M414.51 412.72h0M415.2 412.59h0M415.9 412.46h0M416.6 412.33h0M417.3 412.22h0M417.99 412.12h0M418.69 412.04h0M419.39 412.04h0M420.09 412.11h0M420.78 412.2h0M421.48 412.31h0M422.18 412.42h0M422.88 412.55h0M423.57 412.68h0M424.27 412.81h0M424.97 412.96h0M425.67 413.1h0M426.36 413.26h0M427.06 413.41h0M427.76 413.57h0M459.14 412.77h0M459.84 396.86h0M460.54 381.68h0M461.23 367.26h0M461.93 353.64h0M462.63 340.89h0M463.33 329.05h0M464.02 318.21h0M464.72 308.47h0M465.42 299.98h0M466.12 292.94h0M466.81 287.77h0M467.51 286.44h0M468.21 290.62h0M468.9 296.98h0M469.6 304.93h0M470.3 314.19h0M471 324.61h0M471.69 336.06h0M472.39 348.46h0M473.09 361.73h0M473.79 375.84h0M474.48 390.72h0M475.18 406.35h0" stroke="#515151" stroke-width="3.0" stroke-linecap="round" fill="none"/>
<polyline points="309.2,413.6 309.9,413.6 310.59,413.6 311.29,413.6 311.99,413.6 312.69,413.6 313.38,413.6 314.08,413.6 314.78,413.6 315.48,413.6 316.17,413.6 316.87,413.6 317.57,413.6 318.27,413.6 318.96,413.6 319.66,413.6 320.36,413.6 321.06,413.6 321.75,413.6 322.45,413.6 323.15,413.6 323.85,413.6 324.54,413.6 325.24,413.6 325.94,413.6 326.63,413.6 327.33,413.6 328.03,413.6 328.73,413.6 329.42,413.6 330.12,413.6 330.82,413.6 331.52,413.6 332.21,413.6 332.91,413.6 333.61,413.6 334.31,413.6 335,413.6 335.7,413.6 336.4,413.6 337.1,413.6 337.79,413.6 338.49,413.6 339.19,413.6 339.89,413.6 340.58,413.6 341.28,413.6 341.98,413.6 342.68,413.6 343.37,413.6 344.07,413.6 344.77,413.6 345.46,413.6 346.16,413.6 346.86,413.6 347.56,413.6 348.25,413.6 348.95,413.6 349.65,413.6 350.35,413.6 351.04,413.6 351.74,413.6 352.44,413.6 353.14,413.6 353.83,413.6 354.53,413.6 355.23,413.6 355.93,413.6 356.62,413.6 357.32,413.6 358.02,413.6 358.72,413.6 359.41,413.6 360.11,413.6 360.81,413.6 361.5,413.6 362.2,413.6 362.9,413.6 363.6,413.6 364.29,413.6 364.99,413.6 365.69,413.6 366.39,413.6 367.08,413.6 367.78,413.6 368.48,413.6 369.18,413.6 369.87,413.6 370.57,413.5 371.27,413.42 371.97,413.34 372.66,413.26 373.36,413.2 374.06,413.15 374.76,413.1 375.45,413.06 376.15,413.04 376.85,413.02 377.55,413.02 378.24,413.04 378.94,413.07 379.64,413.11 380.33,413.15 381.03,413.21 381.73,413.28 382.43,413.35 383.12,413.43 383.82,413.52 384.52,413.6 385.22,413.6 385.91,413.6 386.61,413.6 387.31,413.6 388.01,413.6 388.7,413.6 389.4,413.6 390.1,413.6 390.8,413.6 391.49,413.6 392.19,413.6 392.89,413.6 393.59,413.6 394.28,413.6 394.98,413.6 395.68,413.6 396.38,413.6 397.07,413.6 397.77,413.6 398.47,413.6 399.16,413.6 399.86,413.6 400.56,413.6 401.26,413.6 401.95,413.6 402.65,413.6 403.35,413.6 404.05,413.6 404.74,413.52 405.44,413.36 406.14,413.2 406.84,413.05 407.53,412.91 408.23,412.77 408.93,412.64 409.63,412.52 410.32,412.4 411.02,412.3 411.72,412.21 412.42,412.16 413.11,412.21 413.81,412.29 414.51,412.39 415.2,412.49 415.9,412.61 416.6,412.73 417.3,412.85 417.99,412.98 418.69,413.12 419.39,413.26 420.09,413.4 420.78,413.55 421.48,413.6 422.18,413.6 422.88,413.6 423.57,413.6 424.27,413.6 424.97,413.6 425.67,413.6 426.36,413.6 427.06,413.6 427.76,413.6 428.46,413.6 429.15,413.6 429.85,413.6 430.55,413.6 431.25,413.6 431.94,413.6 432.64,413.6 433.34,413.6 434.03,413.6 434.73,413.6 435.43,413.6 436.13,413.6 436.82,413.6 437.52,413.6 438.22,413.6 438.92,413.6 439.61,413.6 440.31,413.6 441.01,413.6 441.71,413.6 442.4,413.6 443.1,413.6 443.8,413.6 444.5,413.6 445.19,413.6 445.89,413.6 446.59,413.6 447.29,413.6 447.98,413.6 448.68,413.6 449.38,413.6 450.07,413.6 450.77,413.6 451.47,413.6 452.17,413.6 452.86,413.6 453.56,413.6 454.26,413.6 454.96,413.6 455.65,413.6 456.35,413.6 457.05,413.6 457.75,413.6 458.44,413.6 459.14,413.6 459.84,405.97 460.54,386.28 461.23,367.65 461.93,350.13 462.63,333.8 463.33,318.75 464.02,305.11 464.72,293.04 465.42,282.77 466.12,274.71 466.81,269.85 467.51,273.12 468.21,280.52 468.9,290.28 469.6,301.92 470.3,315.19 471,329.89 471.69,345.91 472.39,363.14 473.09,381.5 473.79,400.93 474.48,413.6 475.18,413.6 475.88,413.6 476.58,413.6 477.27,413.6 477.97,413.6 478.67,413.6 479.37,413.6 480.06,413.6 480.76,413.6 481.46,413.6 482.16,413.6 482.85,413.6 483.55,413.6 484.25,413.6 484.94,413.6 485.64,413.6 486.34,413.6 487.04,413.6 487.73,413.6 488.43,413.6 489.13,413.6 489.83,413.6 490.52,413.6 491.22,413.6 491.92,413.6 492.62,413.6 493.31,413.6 494.01,413.6 494.71,413.6 495.41,413.6 496.1,413.6 496.8,413.6 497.5,413.6 498.2,413.6 498.89,413.6 499.59,413.6 500.29,413.6 500.99,413.6 501.68,413.6 502.38,413.6 503.08,413.6 503.77,413.6 504.47,413.6 505.17,413.6 505.87,413.6 506.56,413.6 507.26,413.6 507.96,413.6 508.66,413.6 509.35,413.6 510.05,413.6 510.75,413.6 511.45,413.6 512.14,413.6 512.84,413.6 513.54,413.6 514.24,413.6 514.93,413.6 515.63,413.6 516.33,413.6 517.03,413.6 517.72,413.6 518.42,413.6" fill="none" stroke="#F14040" stroke-width="1.3"/>
<path d="M309.2 413.6H369.87M384.52 413.6H404.05M421.48 413.6H459.14M474.48 413.6H518.42" stroke="#F14040" stroke-width="3.3" fill="none"/>
<path d="M370.57 413.5h0M371.27 413.42h0M371.97 413.34h0M372.66 413.26h0M373.36 413.2h0M374.06 413.15h0M374.76 413.1h0M375.45 413.06h0M376.15 413.04h0M376.85 413.02h0M377.55 413.02h0M378.24 413.04h0M378.94 413.07h0M379.64 413.11h0M380.33 413.15h0M381.03 413.21h0M381.73 413.28h0M382.43 413.35h0M383.12 413.43h0M383.82 413.52h0M404.74 413.52h0M405.44 413.36h0M406.14 413.2h0M406.84 413.05h0M407.53 412.91h0M408.23 412.77h0M408.93 412.64h0M409.63 412.52h0M410.32 412.4h0M411.02 412.3h0M411.72 412.21h0M412.42 412.16h0M413.11 412.21h0M413.81 412.29h0M414.51 412.39h0M415.2 412.49h0M415.9 412.61h0M416.6 412.73h0M417.3 412.85h0M417.99 412.98h0M418.69 413.12h0M419.39 413.26h0M420.09 413.4h0M420.78 413.55h0M459.84 405.97h0M460.54 386.28h0M461.23 367.65h0M461.93 350.13h0M462.63 333.8h0M463.33 318.75h0M464.02 305.11h0M464.72 293.04h0M465.42 282.77h0M466.12 274.71h0M466.81 269.85h0M467.51 273.12h0M468.21 280.52h0M468.9 290.28h0M469.6 301.92h0M470.3 315.19h0M471 329.89h0M471.69 345.91h0M472.39 363.14h0M473.09 381.5h0M473.79 400.93h0" stroke="#F14040" stroke-width="3.0" stroke-linecap="round" fill="none"/>
<polyline points="309.2,413.6 309.9,413.6 310.59,413.6 311.29,413.6 311.99,413.6 312.69,413.6 313.38,413.6 314.08,413.6 314.78,413.6 315.48,413.6 316.17,413.6 316.87,413.6 317.57,413.6 318.27,413.6 318.96,413.6 319.66,413.6 320.36,413.6 321.06,413.6 321.75,413.6 322.45,413.6 323.15,413.6 323.85,413.6 324.54,413.6 325.24,413.6 325.94,413.6 326.63,413.6 327.33,413.6 328.03,413.6 328.73,413.6 329.42,413.6 330.12,413.6 330.82,413.6 331.52,413.6 332.21,413.6 332.91,413.6 333.61,413.6 334.31,413.6 335,413.6 335.7,413.6 336.4,413.6 337.1,413.6 337.79,413.6 338.49,413.6 339.19,413.6 339.89,413.6 340.58,413.6 341.28,413.6 341.98,413.6 342.68,413.6 343.37,413.6 344.07,413.6 344.77,413.6 345.46,413.6 346.16,413.6 346.86,413.6 347.56,413.6 348.25,413.6 348.95,413.6 349.65,413.6 350.35,413.6 351.04,413.6 351.74,413.6 352.44,413.6 353.14,413.52 353.83,413.42 354.53,413.32 355.23,413.21 355.93,413.12 356.62,413.02 357.32,412.92 358.02,412.83 358.72,412.74 359.41,412.64 360.11,412.56 360.81,412.47 361.5,412.38 362.2,412.3 362.9,412.23 363.6,412.15 364.29,412.08 364.99,412.02 365.69,411.98 366.39,412.07 367.08,412.19 367.78,412.32 368.48,412.46 369.18,412.6 369.87,412.76 370.57,412.92 371.27,413.08 371.97,413.24 372.66,413.42 373.36,413.6 374.06,413.6 374.76,413.6 375.45,413.6 376.15,413.6 376.85,413.6 377.55,413.6 378.24,413.6 378.94,413.6 379.64,413.6 380.33,413.6 381.03,413.6 381.73,413.6 382.43,413.6 383.12,413.6 383.82,413.6 384.52,413.6 385.22,413.6 385.91,413.6 386.61,413.6 387.31,413.6 388.01,413.6 388.7,413.6 389.4,413.6 390.1,413.6 390.8,413.6 391.49,413.6 392.19,413.6 392.89,413.6 393.59,413.6 394.28,413.6 394.98,413.6 395.68,413.6 396.38,413.6 397.07,413.6 397.77,413.6 398.47,413.6 399.16,413.6 399.86,413.6 400.56,413.6 401.26,413.6 401.95,413.6 402.65,413.6 403.35,413.6 404.05,413.6 404.74,413.6 405.44,413.6 406.14,413.6 406.84,413.6 407.53,413.6 408.23,413.6 408.93,413.6 409.63,413.6 410.32,413.6 411.02,413.6 411.72,413.6 412.42,413.6 413.11,413.6 413.81,413.6 414.51,413.6 415.2,413.6 415.9,413.6 416.6,413.6 417.3,413.6 417.99,413.6 418.69,413.56 419.39,413.34 420.09,413.12 420.78,412.9 421.48,412.69 422.18,412.48 422.88,412.28 423.57,412.08 424.27,411.89 424.97,411.71 425.67,411.54 426.36,411.39 427.06,411.47 427.76,411.63 428.46,411.81 429.15,412.01 429.85,412.21 430.55,412.41 431.25,412.62 431.94,412.84 432.64,413.06 433.34,413.29 434.03,413.52 434.73,413.6 435.43,413.6 436.13,413.6 436.82,413.6 437.52,413.6 438.22,413.6 438.92,413.6 439.61,413.6 440.31,413.6 441.01,413.6 441.71,413.6 442.4,413.6 443.1,413.6 443.8,413.6 444.5,413.6 445.19,413.6 445.89,413.6 446.59,413.6 447.29,413.6 447.98,413.6 448.68,413.6 449.38,413.6 450.07,413.6 450.77,413.6 451.47,413.6 452.17,413.6 452.86,413.6 453.56,413.6 454.26,413.6 454.96,413.12 455.65,404.42 456.35,396 457.05,387.86 457.75,380.01 458.44,372.46 459.14,365.24 459.84,358.34 460.54,351.78 461.23,345.6 461.93,339.8 462.63,334.43 463.33,329.5 464.02,325.08 464.72,321.22 465.42,318.03 466.12,315.68 466.81,315.09 467.51,316.99 468.21,319.89 468.9,323.5 469.6,327.71 470.3,332.45 471,337.65 471.69,343.29 472.39,349.32 473.09,355.73 473.79,362.5 474.48,369.6 475.18,377.02 475.88,384.76 476.58,392.78 477.27,401.1 477.97,409.69 478.67,413.6 479.37,413.6 480.06,413.6 480.76,413.6 481.46,413.6 482.16,413.6 482.85,413.6 483.55,413.6 484.25,413.6 484.94,413.6 485.64,413.6 486.34,413.6 487.04,413.6 487.73,413.6 488.43,413.6 489.13,413.6 489.83,413.6 490.52,413.6 491.22,413.6 491.92,413.6 492.62,413.6 493.31,413.6 494.01,413.6 494.71,413.6 495.41,413.6 496.1,413.6 496.8,413.6 497.5,413.6 498.2,413.6 498.89,413.6 499.59,413.6 500.29,413.6 500.99,413.6 501.68,413.6 502.38,413.6 503.08,413.6 503.77,413.6 504.47,413.6 505.17,413.6 505.87,413.6 506.56,413.6 507.26,413.6 507.96,413.6 508.66,413.6 509.35,413.6 510.05,413.6 510.75,413.6 511.45,413.6 512.14,413.6 512.84,413.6 513.54,413.6 514.24,413.6 514.93,413.6 515.63,413.6 516.33,413.6 517.03,413.6 517.72,413.6 518.42,413.6" fill="none" stroke="#1A6FDF" stroke-width="1.3"/>
<path d="M309.2 413.6H352.44M373.36 413.6H417.99M434.73 413.6H454.26M478.67 413.6H518.42" stroke="#1A6FDF" stroke-width="3.3" fill="none"/>
<path d="M353.14 413.52h0M353.83 413.42h0M354.53 413.32h0M355.23 413.21h0M355.93 413.12h0M356.62 413.02h0M357.32 412.92h0M358.02 412.83h0M358.72 412.74h0M359.41 412.64h0M360.11 412.56h0M360.81 412.47h0M361.5 412.38h0M362.2 412.3h0M362.9 412.23h0M363.6 412.15h0M364.29 412.08h0M364.99 412.02h0M365.69 411.98h0M366.39 412.07h0M367.08 412.19h0M367.78 412.32h0M368.48 412.46h0M369.18 412.6h0M369.87 412.76h0M370.57 412.92h0M371.27 413.08h0M371.97 413.24h0M372.66 413.42h0M418.69 413.56h0M419.39 413.34h0M420.09 413.12h0M420.78 412.9h0M421.48 412.69h0M422.18 412.48h0M422.88 412.28h0M423.57 412.08h0M424.27 411.89h0M424.97 411.71h0M425.67 411.54h0M426.36 411.39h0M427.06 411.47h0M427.76 411.63h0M428.46 411.81h0M429.15 412.01h0M429.85 412.21h0M430.55 412.41h0M431.25 412.62h0M431.94 412.84h0M432.64 413.06h0M433.34 413.29h0M434.03 413.52h0M454.96 413.12h0M455.65 404.42h0M456.35 396h0M457.05 387.86h0M457.75 380.01h0M458.44 372.46h0M459.14 365.24h0M459.84 358.34h0M460.54 351.78h0M461.23 345.6h0M461.93 339.8h0M462.63 334.43h0M463.33 329.5h0M464.02 325.08h0M464.72 321.22h0M465.42 318.03h0M466.12 315.68h0M466.81 315.09h0M467.51 316.99h0M468.21 319.89h0M468.9 323.5h0M469.6 327.71h0M470.3 332.45h0M471 337.65h0M471.69 343.29h0M472.39 349.32h0M473.09 355.73h0M473.79 362.5h0M474.48 369.6h0M475.18 377.02h0M475.88 384.76h0M476.58 392.78h0M477.27 401.1h0M477.97 409.69h0" stroke="#1A6FDF" stroke-width="3.0" stroke-linecap="round" fill="none"/>
<polyline points="309.2,413.6 309.9,413.6 310.59,413.6 311.29,413.6 311.99,413.6 312.69,413.6 313.38,413.6 314.08,413.6 314.78,413.6 315.48,413.6 316.17,413.6 316.87,413.6 317.57,413.6 318.27,413.6 318.96,413.6 319.66,413.6 320.36,413.6 321.06,413.6 321.75,413.6 322.45,413.6 323.15,413.6 323.85,413.6 324.54,413.6 325.24,413.6 325.94,413.6 326.63,413.6 327.33,413.6 328.03,413.6 328.73,413.6 329.42,413.6 330.12,413.6 330.82,413.6 331.52,413.6 332.21,413.6 332.91,413.6 333.61,413.6 334.31,413.6 335,413.6 335.7,413.6 336.4,413.6 337.1,413.6 337.79,413.6 338.49,413.6 339.19,413.6 339.89,413.6 340.58,413.6 341.28,413.6 341.98,413.6 342.68,413.6 343.37,413.6 344.07,413.6 344.77,413.6 345.46,413.6 346.16,413.6 346.86,413.6 347.56,413.6 348.25,413.6 348.95,413.6 349.65,413.6 350.35,413.6 351.04,413.6 351.74,413.6 352.44,413.6 353.14,413.6 353.83,413.6 354.53,413.6 355.23,413.6 355.93,413.6 356.62,413.6 357.32,413.6 358.02,413.6 358.72,413.6 359.41,413.6 360.11,413.6 360.81,413.6 361.5,413.6 362.2,413.6 362.9,413.6 363.6,413.6 364.29,413.6 364.99,413.55 365.69,413.49 366.39,413.43 367.08,413.39 367.78,413.35 368.48,413.31 369.18,413.29 369.87,413.28 370.57,413.27 371.27,413.29 371.97,413.31 372.66,413.35 373.36,413.4 374.06,413.47 374.76,413.54 375.45,413.6 376.15,413.6 376.85,413.6 377.55,413.6 378.24,413.6 378.94,413.6 379.64,413.6 380.33,413.6 381.03,413.6 381.73,413.6 382.43,413.6 383.12,413.6 383.82,413.6 384.52,413.6 385.22,413.6 385.91,413.6 386.61,413.6 387.31,413.6 388.01,413.6 388.7,413.6 389.4,413.6 390.1,413.6 390.8,413.6 391.49,413.6 392.19,413.6 392.89,413.6 393.59,413.6 394.28,413.6 394.98,413.6 395.68,413.6 396.38,413.6 397.07,413.6 397.77,413.6 398.47,413.6 399.16,413.6 399.86,413.6 400.56,413.6 401.26,413.6 401.95,413.6 402.65,413.6 403.35,413.6 404.05,413.6 404.74,413.57 405.44,413.41 406.14,413.25 406.84,413.09 407.53,412.94 408.23,412.79 408.93,412.64 409.63,412.51 410.32,412.37 411.02,412.25 411.72,412.13 412.42,412.02 413.11,411.92 413.81,411.84 414.51,411.79 415.2,411.85 415.9,411.94 416.6,412.05 417.3,412.17 417.99,412.3 418.69,412.43 419.39,412.58 420.09,412.73 420.78,412.88 421.48,413.04 422.18,413.21 422.88,413.38 423.57,413.55 424.27,413.6 424.97,413.6 425.67,413.6 426.36,413.6 427.06,413.6 427.76,413.6 428.46,413.6 429.15,413.6 429.85,413.6 430.55,413.6 431.25,413.6 431.94,413.6 432.64,413.6 433.34,413.6 434.03,413.6 434.73,413.6 435.43,413.6 436.13,413.6 436.82,413.6 437.52,413.6 438.22,413.6 438.92,413.6 439.61,413.6 440.31,413.6 441.01,413.6 441.71,413.6 442.4,413.6 443.1,413.6 443.8,413.6 444.5,413.6 445.19,413.6 445.89,413.6 446.59,413.6 447.29,413.6 447.98,413.6 448.68,413.6 449.38,413.6 450.07,413.6 450.77,413.6 451.47,413.6 452.17,413.6 452.86,413.6 453.56,413.6 454.26,413.6 454.96,413.6 455.65,413.6 456.35,413.6 457.05,413.6 457.75,413.6 458.44,413.6 459.14,409.73 459.84,393.42 460.54,377.9 461.23,363.19 461.93,349.34 462.63,336.42 463.33,324.49 464.02,313.64 464.72,304 465.42,295.74 466.12,289.16 466.81,284.89 467.51,286.49 468.21,291.97 468.9,299.37 469.6,308.29 470.3,318.51 471,329.87 471.69,342.27 472.39,355.63 473.09,369.88 473.79,384.97 474.48,400.86 475.18,413.6 475.88,413.6 476.58,413.6 477.27,413.6 477.97,413.6 478.67,413.6 479.37,413.6 480.06,413.6 480.76,413.6 481.46,413.6 482.16,413.6 482.85,413.6 483.55,413.6 484.25,413.6 484.94,413.6 485.64,413.6 486.34,413.6 487.04,413.6 487.73,413.6 488.43,413.6 489.13,413.6 489.83,413.6 490.52,413.6 491.22,413.6 491.92,413.6 492.62,413.6 493.31,413.6 494.01,413.6 494.71,413.6 495.41,413.6 496.1,413.6 496.8,413.6 497.5,413.6 498.2,413.6 498.89,413.6 499.59,413.6 500.29,413.6 500.99,413.6 501.68,413.6 502.38,413.6 503.08,413.6 503.77,413.6 504.47,413.6 505.17,413.6 505.87,413.6 506.56,413.6 507.26,413.6 507.96,413.6 508.66,413.6 509.35,413.6 510.05,413.6 510.75,413.6 511.45,413.6 512.14,413.6 512.84,413.6 513.54,413.6 514.24,413.6 514.93,413.6 515.63,413.6 516.33,413.6 517.03,413.6 517.72,413.6 518.42,413.6" fill="none" stroke="#37AD6B" stroke-width="1.3"/>
<path d="M309.2 413.6H364.29M375.45 413.6H404.05M424.27 413.6H458.44M475.18 413.6H518.42" stroke="#37AD6B" stroke-width="3.3" fill="none"/>
<path d="M364.99 413.55h0M365.69 413.49h0M366.39 413.43h0M367.08 413.39h0M367.78 413.35h0M368.48 413.31h0M369.18 413.29h0M369.87 413.28h0M370.57 413.27h0M371.27 413.29h0M371.97 413.31h0M372.66 413.35h0M373.36 413.4h0M374.06 413.47h0M374.76 413.54h0M404.74 413.57h0M405.44 413.41h0M406.14 413.25h0M406.84 413.09h0M407.53 412.94h0M408.23 412.79h0M408.93 412.64h0M409.63 412.51h0M410.32 412.37h0M411.02 412.25h0M411.72 412.13h0M412.42 412.02h0M413.11 411.92h0M413.81 411.84h0M414.51 411.79h0M415.2 411.85h0M415.9 411.94h0M416.6 412.05h0M417.3 412.17h0M417.99 412.3h0M418.69 412.43h0M419.39 412.58h0M420.09 412.73h0M420.78 412.88h0M421.48 413.04h0M422.18 413.21h0M422.88 413.38h0M423.57 413.55h0M459.14 409.73h0M459.84 393.42h0M460.54 377.9h0M461.23 363.19h0M461.93 349.34h0M462.63 336.42h0M463.33 324.49h0M464.02 313.64h0M464.72 304h0M465.42 295.74h0M466.12 289.16h0M466.81 284.89h0M467.51 286.49h0M468.21 291.97h0M468.9 299.37h0M469.6 308.29h0M470.3 318.51h0M471 329.87h0M471.69 342.27h0M472.39 355.63h0M473.09 369.88h0M473.79 384.97h0M474.48 400.86h0" stroke="#37AD6B" stroke-width="3.0" stroke-linecap="round" fill="none"/>
<polyline points="309.2,413.6 309.9,413.6 310.59,413.6 311.29,413.6 311.99,413.6 312.69,413.6 313.38,413.6 314.08,413.6 314.78,413.6 315.48,413.6 316.17,413.6 316.87,413.6 317.57,413.6 318.27,413.6 318.96,413.6 319.66,413.6 320.36,413.6 321.06,413.6 321.75,413.6 322.45,413.6 323.15,413.6 323.85,413.6 324.54,413.6 325.24,413.6 325.94,413.6 326.63,413.6 327.33,413.6 328.03,413.6 328.73,413.6 329.42,413.54 330.12,413.53 330.82,413.52 331.52,413.5 332.21,413.48 332.91,413.46 333.61,413.44 334.31,413.41 335,413.38 335.7,413.35 336.4,413.31 337.1,413.27 337.79,413.22 338.49,413.18 339.19,413.13 339.89,413.07 340.58,413.02 341.28,412.96 341.98,412.9 342.68,412.84 343.37,412.79 344.07,412.73 344.77,412.67 345.46,412.61 346.16,412.56 346.86,412.51 347.56,412.47 348.25,412.43 348.95,412.4 349.65,412.38 350.35,412.36 351.04,412.35 351.74,412.34 352.44,412.35 353.14,412.37 353.83,412.41 354.53,412.46 355.23,412.53 355.93,412.61 356.62,412.71 357.32,412.82 358.02,412.95 358.72,413.09 359.41,413.25 360.11,413.42 360.81,413.6 361.5,413.6 362.2,413.6 362.9,413.6 363.6,413.6 364.29,413.6 364.99,413.6 365.69,413.6 366.39,413.6 367.08,413.6 367.78,413.6 368.48,413.6 369.18,413.6 369.87,413.6 370.57,413.6 371.27,413.6 371.97,413.6 372.66,413.6 373.36,413.6 374.06,413.6 374.76,413.6 375.45,413.6 376.15,413.6 376.85,413.6 377.55,413.6 378.24,413.6 378.94,413.6 379.64,413.6 380.33,413.6 381.03,413.6 381.73,413.6 382.43,413.6 383.12,413.6 383.82,413.6 384.52,413.6 385.22,413.6 385.91,413.6 386.61,413.6 387.31,413.6 388.01,413.6 388.7,413.6 389.4,413.6 390.1,413.6 390.8,413.6 391.49,413.6 392.19,413.6 392.89,413.6 393.59,413.6 394.28,413.6 394.98,413.6 395.68,413.6 396.38,413.6 397.07,413.6 397.77,413.6 398.47,413.6 399.16,413.6 399.86,413.6 400.56,413.52 401.26,413.37 401.95,413.23 402.65,413.09 403.35,412.96 404.05,412.84 404.74,412.72 405.44,412.62 406.14,412.53 406.84,412.46 407.53,412.46 408.23,412.5 408.93,412.55 409.63,412.6 410.32,412.65 411.02,412.72 411.72,412.78 412.42,412.85 413.11,412.92 413.81,412.99 414.51,413.06 415.2,413.14 415.9,413.22 416.6,413.3 417.3,413.38 417.99,413.46 418.69,413.55 419.39,413.6 420.09,413.6 420.78,413.6 421.48,413.6 422.18,413.6 422.88,413.6 423.57,413.6 424.27,413.6 424.97,413.6 425.67,413.6 426.36,413.6 427.06,413.6 427.76,413.6 428.46,413.6 429.15,413.6 429.85,413.6 430.55,413.6 431.25,413.6 431.94,413.6 432.64,413.6 433.34,413.6 434.03,413.6 434.73,413.6 435.43,413.6 436.13,413.6 436.82,413.6 437.52,413.6 438.22,413.6 438.92,413.6 439.61,413.6 440.31,413.6 441.01,413.6 441.71,413.6 442.4,413.6 443.1,413.6 443.8,413.6 444.5,413.6 445.19,413.6 445.89,413.6 446.59,413.6 447.29,413.6 447.98,413.6 448.68,413.6 449.38,413.6 450.07,413.6 450.77,413.6 451.47,413.6 452.17,413.6 452.86,413.6 453.56,413.6 454.26,413.6 454.96,413.6 455.65,413.6 456.35,413.6 457.05,413.6 457.75,413.6 458.44,411.07 459.14,400.18 459.84,389.73 460.54,379.73 461.23,370.2 461.93,361.18 462.63,352.69 463.33,344.76 464.02,337.44 464.72,330.79 465.42,324.88 466.12,319.81 466.81,315.77 467.51,313.14 468.21,314.11 468.9,317.46 469.6,322 470.3,327.47 471,333.73 471.69,340.69 472.39,348.29 473.09,356.48 473.79,365.22 474.48,374.47 475.18,384.21 475.88,394.42 476.58,405.07 477.27,413.6 477.97,413.6 478.67,413.6 479.37,413.6 480.06,413.6 480.76,413.6 481.46,413.6 482.16,413.6 482.85,413.6 483.55,413.6 484.25,413.6 484.94,413.6 485.64,413.6 486.34,413.6 487.04,413.6 487.73,413.6 488.43,413.6 489.13,413.6 489.83,413.6 490.52,413.6 491.22,413.6 491.92,413.6 492.62,413.6 493.31,413.6 494.01,413.6 494.71,413.6 495.41,413.6 496.1,413.6 496.8,413.6 497.5,413.6 498.2,413.6 498.89,413.6 499.59,413.6 500.29,413.6 500.99,413.6 501.68,413.6 502.38,413.6 503.08,413.6 503.77,413.6 504.47,413.6 505.17,413.6 505.87,413.6 506.56,413.6 507.26,413.6 507.96,413.6 508.66,413.6 509.35,413.6 510.05,413.6 510.75,413.6 511.45,413.6 512.14,413.6 512.84,413.6 513.54,413.6 514.24,413.6 514.93,413.6 515.63,413.6 516.33,413.6 517.03,413.6 517.72,413.6 518.42,413.6" fill="none" stroke="#B177DE" stroke-width="1.3"/>
<path d="M309.2 413.6H328.73M360.81 413.6H399.86M419.39 413.6H457.75M477.27 413.6H518.42" stroke="#B177DE" stroke-width="3.3" fill="none"/>
<path d="M329.42 413.54h0M330.12 413.53h0M330.82 413.52h0M331.52 413.5h0M332.21 413.48h0M332.91 413.46h0M333.61 413.44h0M334.31 413.41h0M335 413.38h0M335.7 413.35h0M336.4 413.31h0M337.1 413.27h0M337.79 413.22h0M338.49 413.18h0M339.19 413.13h0M339.89 413.07h0M340.58 413.02h0M341.28 412.96h0M341.98 412.9h0M342.68 412.84h0M343.37 412.79h0M344.07 412.73h0M344.77 412.67h0M345.46 412.61h0M346.16 412.56h0M346.86 412.51h0M347.56 412.47h0M348.25 412.43h0M348.95 412.4h0M349.65 412.38h0M350.35 412.36h0M351.04 412.35h0M351.74 412.34h0M352.44 412.35h0M353.14 412.37h0M353.83 412.41h0M354.53 412.46h0M355.23 412.53h0M355.93 412.61h0M356.62 412.71h0M357.32 412.82h0M358.02 412.95h0M358.72 413.09h0M359.41 413.25h0M360.11 413.42h0M400.56 413.52h0M401.26 413.37h0M401.95 413.23h0M402.65 413.09h0M403.35 412.96h0M404.05 412.84h0M404.74 412.72h0M405.44 412.62h0M406.14 412.53h0M406.84 412.46h0M407.53 412.46h0M408.23 412.5h0M408.93 412.55h0M409.63 412.6h0M410.32 412.65h0M411.02 412.72h0M411.72 412.78h0M412.42 412.85h0M413.11 412.92h0M413.81 412.99h0M414.51 413.06h0M415.2 413.14h0M415.9 413.22h0M416.6 413.3h0M417.3 413.38h0M417.99 413.46h0M418.69 413.55h0M458.44 411.07h0M459.14 400.18h0M459.84 389.73h0M460.54 379.73h0M461.23 370.2h0M461.93 361.18h0M462.63 352.69h0M463.33 344.76h0M464.02 337.44h0M464.72 330.79h0M465.42 324.88h0M466.12 319.81h0M466.81 315.77h0M467.51 313.14h0M468.21 314.11h0M468.9 317.46h0M469.6 322h0M470.3 327.47h0M471 333.73h0M471.69 340.69h0M472.39 348.29h0M473.09 356.48h0M473.79 365.22h0M474.48 374.47h0M475.18 384.21h0M475.88 394.42h0M476.58 405.07h0" stroke="#B177DE" stroke-width="3.0" stroke-linecap="round" fill="none"/>
<polyline points="309.2,413.6 309.9,413.6 310.59,413.6 311.29,413.6 311.99,413.6 312.69,413.6 313.38,413.6 314.08,413.6 314.78,413.6 315.48,413.6 316.17,413.6 316.87,413.6 317.57,413.6 318.27,413.6 318.96,413.6 319.66,413.6 320.36,413.6 321.06,413.6 321.75,413.6 322.45,413.6 323.15,413.6 323.85,413.6 324.54,413.6 325.24,413.6 325.94,413.6 326.63,413.6 327.33,413.6 328.03,413.6 328.73,413.6 329.42,413.6 330.12,413.6 330.82,413.6 331.52,413.6 332.21,413.6 332.91,413.6 333.61,413.6 334.31,413.6 335,413.6 335.7,413.6 336.4,413.6 337.1,413.6 337.79,413.6 338.49,413.6 339.19,413.6 339.89,413.6 340.58,413.6 341.28,413.6 341.98,413.6 342.68,413.6 343.37,413.6 344.07,413.6 344.77,413.6 345.46,413.6 346.16,413.6 346.86,413.6 347.56,413.6 348.25,413.6 348.95,413.6 349.65,413.6 350.35,413.6 351.04,413.6 351.74,413.6 352.44,413.6 353.14,413.6 353.83,413.6 354.53,413.6 355.23,413.6 355.93,413.6 356.62,413.6 357.32,413.6 358.02,413.6 358.72,413.6 359.41,413.6 360.11,413.6 360.81,413.6 361.5,413.6 362.2,413.6 362.9,413.6 363.6,413.6 364.29,413.6 364.99,413.6 365.69,413.6 366.39,413.6 367.08,413.6 367.78,413.6 368.48,413.6 369.18,413.6 369.87,413.6 370.57,413.6 371.27,413.6 371.97,413.6 372.66,413.6 373.36,413.6 374.06,413.6 374.76,413.5 375.45,413.31 376.15,413.14 376.85,412.99 377.55,412.85 378.24,412.73 378.94,412.63 379.64,412.54 380.33,412.48 381.03,412.44 381.73,412.42 382.43,412.45 383.12,412.5 383.82,412.59 384.52,412.7 385.22,412.83 385.91,412.99 386.61,413.17 387.31,413.37 388.01,413.6 388.7,413.6 389.4,413.6 390.1,413.6 390.8,413.6 391.49,413.6 392.19,413.6 392.89,413.6 393.59,413.6 394.28,413.6 394.98,413.6 395.68,413.6 396.38,413.6 397.07,413.6 397.77,413.6 398.47,413.6 399.16,413.6 399.86,413.6 400.56,413.6 401.26,413.6 401.95,413.6 402.65,413.6 403.35,413.6 404.05,413.43 404.74,413.29 405.44,413.14 406.14,413 406.84,412.87 407.53,412.74 408.23,412.62 408.93,412.51 409.63,412.4 410.32,412.31 411.02,412.24 411.72,412.23 412.42,412.3 413.11,412.39 413.81,412.49 414.51,412.59 415.2,412.7 415.9,412.82 416.6,412.95 417.3,413.08 417.99,413.21 418.69,413.35 419.39,413.49 420.09,413.6 420.78,413.6 421.48,413.6 422.18,413.6 422.88,413.6 423.57,413.6 424.27,413.6 424.97,413.6 425.67,413.6 426.36,413.6 427.06,413.6 427.76,413.6 428.46,413.6 429.15,413.6 429.85,413.6 430.55,413.6 431.25,413.6 431.94,413.6 432.64,413.6 433.34,413.6 434.03,413.6 434.73,413.6 435.43,413.6 436.13,413.6 436.82,413.6 437.52,413.6 438.22,413.6 438.92,413.6 439.61,413.6 440.31,413.6 441.01,413.6 441.71,413.6 442.4,413.6 443.1,413.6 443.8,413.6 444.5,413.6 445.19,413.6 445.89,413.6 446.59,413.6 447.29,413.6 447.98,413.6 448.68,413.6 449.38,413.6 450.07,413.6 450.77,413.6 451.47,413.6 452.17,413.6 452.86,413.6 453.56,413.6 454.26,413.6 454.96,413.6 455.65,413.6 456.35,413.6 457.05,413.6 457.75,413.6 458.44,413.6 459.14,413.6 459.84,400.08 460.54,382.35 461.23,365.56 461.93,349.75 462.63,335 463.33,321.38 464.02,309 464.72,298 465.42,288.57 466.12,281.05 466.81,276.17 467.51,278.01 468.21,284.26 468.9,292.71 469.6,302.9 470.3,314.56 471,327.52 471.69,341.68 472.39,356.93 473.09,373.2 473.79,390.43 474.48,408.57 475.18,413.6 475.88,413.6 476.58,413.6 477.27,413.6 477.97,413.6 478.67,413.6 479.37,413.6 480.06,413.6 480.76,413.6 481.46,413.6 482.16,413.6 482.85,413.6 483.55,413.6 484.25,413.6 484.94,413.6 485.64,413.6 486.34,413.6 487.04,413.6 487.73,413.6 488.43,413.6 489.13,413.6 489.83,413.6 490.52,413.6 491.22,413.6 491.92,413.6 492.62,413.6 493.31,413.6 494.01,413.6 494.71,413.6 495.41,413.6 496.1,413.6 496.8,413.6 497.5,413.6 498.2,413.6 498.89,413.6 499.59,413.6 500.29,413.6 500.99,413.6 501.68,413.6 502.38,413.6 503.08,413.6 503.77,413.6 504.47,413.6 505.17,413.6 505.87,413.6 506.56,413.6 507.26,413.6 507.96,413.6 508.66,413.6 509.35,413.6 510.05,413.6 510.75,413.6 511.45,413.6 512.14,413.6 512.84,413.6 513.54,413.6 514.24,413.6 514.93,413.6 515.63,413.6 516.33,413.6 517.03,413.6 517.72,413.6 518.42,413.6" fill="none" stroke="#DDA020" stroke-width="1.3"/>
<path d="M309.2 413.6H374.06M388.01 413.6H403.35M420.09 413.6H459.14M475.18 413.6H518.42" stroke="#DDA020" stroke-width="3.3" fill="none"/>
<path d="M374.76 413.5h0M375.45 413.31h0M376.15 413.14h0M376.85 412.99h0M377.55 412.85h0M378.24 412.73h0M378.94 412.63h0M379.64 412.54h0M380.33 412.48h0M381.03 412.44h0M381.73 412.42h0M382.43 412.45h0M383.12 412.5h0M383.82 412.59h0M384.52 412.7h0M385.22 412.83h0M385.91 412.99h0M386.61 413.17h0M387.31 413.37h0M404.05 413.43h0M404.74 413.29h0M405.44 413.14h0M406.14 413h0M406.84 412.87h0M407.53 412.74h0M408.23 412.62h0M408.93 412.51h0M409.63 412.4h0M410.32 412.31h0M411.02 412.24h0M411.72 412.23h0M412.42 412.3h0M413.11 412.39h0M413.81 412.49h0M414.51 412.59h0M415.2 412.7h0M415.9 412.82h0M416.6 412.95h0M417.3 413.08h0M417.99 413.21h0M418.69 413.35h0M419.39 413.49h0M459.84 400.08h0M460.54 382.35h0M461.23 365.56h0M461.93 349.75h0M462.63 335h0M463.33 321.38h0M464.02 309h0M464.72 298h0M465.42 288.57h0M466.12 281.05h0M466.81 276.17h0M467.51 278.01h0M468.21 284.26h0M468.9 292.71h0M469.6 302.9h0M470.3 314.56h0M471 327.52h0M471.69 341.68h0M472.39 356.93h0M473.09 373.2h0M473.79 390.43h0M474.48 408.57h0" stroke="#DDA020" stroke-width="3.0" stroke-linecap="round" fill="none"/>
<polyline points="309.2,413.6 309.9,413.6 310.59,413.6 311.29,413.6 311.99,413.6 312.69,413.6 313.38,413.6 314.08,413.6 314.78,413.6 315.48,413.6 316.17,413.6 316.87,413.6 317.57,413.6 318.27,413.6 318.96,413.6 319.66,413.6 320.36,413.6 321.06,413.6 321.75,413.6 322.45,413.6 323.15,413.6 323.85,413.6 324.54,413.6 325.24,413.6 325.94,413.6 326.63,413.6 327.33,413.6 328.03,413.6 328.73,413.6 329.42,413.6 330.12,413.6 330.82,413.6 331.52,413.6 332.21,413.6 332.91,413.6 333.61,413.6 334.31,413.6 335,413.6 335.7,413.6 336.4,413.6 337.1,413.6 337.79,413.6 338.49,413.6 339.19,413.6 339.89,413.6 340.58,413.6 341.28,413.6 341.98,413.6 342.68,413.6 343.37,413.6 344.07,413.6 344.77,413.6 345.46,413.6 346.16,413.6 346.86,413.6 347.56,413.6 348.25,413.6 348.95,413.6 349.65,413.6 350.35,413.6 351.04,413.6 351.74,413.6 352.44,413.6 353.14,413.6 353.83,413.6 354.53,413.6 355.23,413.6 355.93,413.6 356.62,413.6 357.32,413.6 358.02,413.6 358.72,413.6 359.41,413.6 360.11,413.6 360.81,413.6 361.5,413.6 362.2,413.6 362.9,413.6 363.6,413.6 364.29,413.6 364.99,413.6 365.69,413.6 366.39,413.6 367.08,413.6 367.78,413.6 368.48,413.6 369.18,413.6 369.87,413.6 370.57,413.6 371.27,413.6 371.97,413.6 372.66,413.6 373.36,413.6 374.06,413.6 374.76,413.6 375.45,413.6 376.15,413.6 376.85,413.6 377.55,413.6 378.24,413.6 378.94,413.6 379.64,413.6 380.33,413.6 381.03,413.6 381.73,413.6 382.43,413.6 383.12,413.6 383.82,413.6 384.52,413.6 385.22,413.6 385.91,413.6 386.61,413.6 387.31,413.6 388.01,413.6 388.7,413.6 389.4,413.6 390.1,413.6 390.8,413.6 391.49,413.6 392.19,413.6 392.89,413.6 393.59,413.6 394.28,413.6 394.98,413.6 395.68,413.6 396.38,413.6 397.07,413.6 397.77,413.6 398.47,413.6 399.16,413.6 399.86,413.6 400.56,413.6 401.26,413.44 401.95,413.27 402.65,413.1 403.35,412.94 404.05,412.79 404.74,412.64 405.44,412.5 406.14,412.37 406.84,412.26 407.53,412.16 408.23,412.09 408.93,412.14 409.63,412.22 410.32,412.33 411.02,412.44 411.72,412.56 412.42,412.69 413.11,412.82 413.81,412.96 414.51,413.11 415.2,413.26 415.9,413.42 416.6,413.58 417.3,413.6 417.99,413.6 418.69,413.6 419.39,413.6 420.09,413.6 420.78,413.6 421.48,413.6 422.18,413.6 422.88,413.6 423.57,413.6 424.27,413.6 424.97,413.6 425.67,413.6 426.36,413.6 427.06,413.6 427.76,413.6 428.46,413.6 429.15,413.6 429.85,413.6 430.55,413.6 431.25,413.6 431.94,413.6 432.64,413.6 433.34,413.6 434.03,413.6 434.73,413.6 435.43,413.6 436.13,413.6 436.82,413.6 437.52,413.6 438.22,413.6 438.92,413.6 439.61,413.6 440.31,413.6 441.01,413.6 441.71,413.6 442.4,413.6 443.1,413.6 443.8,413.6 444.5,413.6 445.19,413.6 445.89,413.6 446.59,413.6 447.29,413.6 447.98,413.6 448.68,413.6 449.38,413.6 450.07,413.6 450.77,413.6 451.47,413.6 452.17,413.6 452.86,413.6 453.56,413.6 454.26,413.6 454.96,413.6 455.65,413.6 456.35,413.6 457.05,413.6 457.75,413.6 458.44,413.6 459.14,405.75 459.84,389.96 460.54,374.93 461.23,360.69 461.93,347.28 462.63,334.76 463.33,323.21 464.02,312.71 464.72,303.38 465.42,295.39 466.12,289.01 466.81,284.87 467.51,286.43 468.21,291.73 468.9,298.9 469.6,307.54 470.3,317.43 471,328.43 471.69,340.43 472.39,353.37 473.09,367.16 473.79,381.78 474.48,397.17 475.18,413.29 475.88,413.6 476.58,413.6 477.27,413.6 477.97,413.6 478.67,413.6 479.37,413.6 480.06,413.6 480.76,413.6 481.46,413.6 482.16,413.6 482.85,413.6 483.55,413.6 484.25,413.6 484.94,413.6 485.64,413.6 486.34,413.6 487.04,413.6 487.73,413.6 488.43,413.6 489.13,413.6 489.83,413.6 490.52,413.6 491.22,413.6 491.92,413.6 492.62,413.6 493.31,413.6 494.01,413.6 494.71,413.6 495.41,413.6 496.1,413.6 496.8,413.6 497.5,413.6 498.2,413.6 498.89,413.6 499.59,413.6 500.29,413.6 500.99,413.6 501.68,413.6 502.38,413.6 503.08,413.6 503.77,413.6 504.47,413.6 505.17,413.6 505.87,413.6 506.56,413.6 507.26,413.6 507.96,413.6 508.66,413.6 509.35,413.6 510.05,413.6 510.75,413.6 511.45,413.6 512.14,413.6 512.84,413.6 513.54,413.6 514.24,413.6 514.93,413.6 515.63,413.6 516.33,413.6 517.03,413.6 517.72,413.6 518.42,413.6" fill="none" stroke="#10C8C8" stroke-width="1.3"/>
<path d="M309.2 413.6H400.56M417.3 413.6H458.44M475.88 413.6H518.42" stroke="#10C8C8" stroke-width="3.3" fill="none"/>
<path d="M401.26 413.44h0M401.95 413.27h0M402.65 413.1h0M403.35 412.94h0M404.05 412.79h0M404.74 412.64h0M405.44 412.5h0M406.14 412.37h0M406.84 412.26h0M407.53 412.16h0M408.23 412.09h0M408.93 412.14h0M409.63 412.22h0M410.32 412.33h0M411.02 412.44h0M411.72 412.56h0M412.42 412.69h0M413.11 412.82h0M413.81 412.96h0M414.51 413.11h0M415.2 413.26h0M415.9 413.42h0M416.6 413.58h0M459.14 405.75h0M459.84 389.96h0M460.54 374.93h0M461.23 360.69h0M461.93 347.28h0M462.63 334.76h0M463.33 323.21h0M464.02 312.71h0M464.72 303.38h0M465.42 295.39h0M466.12 289.01h0M466.81 284.87h0M467.51 286.43h0M468.21 291.73h0M468.9 298.9h0M469.6 307.54h0M470.3 317.43h0M471 328.43h0M471.69 340.43h0M472.39 353.37h0M473.09 367.16h0M473.79 381.78h0M474.48 397.17h0M475.18 413.29h0" stroke="#10C8C8" stroke-width="3.0" stroke-linecap="round" fill="none"/>
<line x1="309.2" y1="253" x2="309.2" y2="424.3" stroke="#000" stroke-width="1.7" />
<line x1="308.55" y1="424.3" x2="518.9" y2="424.3" stroke="#000" stroke-width="1.7" />
<line x1="306" y1="413.6" x2="309.2" y2="413.6" stroke="#000" stroke-width="1.1" />
<text x="304" y="416.8" font-size="9.3" text-anchor="end" font-weight="bold" fill="#000" >0</text>
<line x1="307.4" y1="403.62" x2="309.2" y2="403.62" stroke="#000" stroke-width="1.1" />
<line x1="306" y1="393.65" x2="309.2" y2="393.65" stroke="#000" stroke-width="1.1" />
<text x="304" y="396.85" font-size="9.3" text-anchor="end" font-weight="bold" fill="#000" >20</text>
<line x1="307.4" y1="383.68" x2="309.2" y2="383.68" stroke="#000" stroke-width="1.1" />
<line x1="306" y1="373.7" x2="309.2" y2="373.7" stroke="#000" stroke-width="1.1" />
<text x="304" y="376.9" font-size="9.3" text-anchor="end" font-weight="bold" fill="#000" >40</text>
<line x1="307.4" y1="363.73" x2="309.2" y2="363.73" stroke="#000" stroke-width="1.1" />
<line x1="306" y1="353.75" x2="309.2" y2="353.75" stroke="#000" stroke-width="1.1" />
<text x="304" y="356.95" font-size="9.3" text-anchor="end" font-weight="bold" fill="#000" >60</text>
<line x1="307.4" y1="343.78" x2="309.2" y2="343.78" stroke="#000" stroke-width="1.1" />
<line x1="306" y1="333.8" x2="309.2" y2="333.8" stroke="#000" stroke-width="1.1" />
<text x="304" y="337" font-size="9.3" text-anchor="end" font-weight="bold" fill="#000" >80</text>
<line x1="307.4" y1="323.83" x2="309.2" y2="323.83" stroke="#000" stroke-width="1.1" />
<line x1="306" y1="313.85" x2="309.2" y2="313.85" stroke="#000" stroke-width="1.1" />
<text x="304" y="317.05" font-size="9.3" text-anchor="end" font-weight="bold" fill="#000" >100</text>
<line x1="307.4" y1="303.88" x2="309.2" y2="303.88" stroke="#000" stroke-width="1.1" />
<line x1="306" y1="293.9" x2="309.2" y2="293.9" stroke="#000" stroke-width="1.1" />
<text x="304" y="297.1" font-size="9.3" text-anchor="end" font-weight="bold" fill="#000" >120</text>
<line x1="307.4" y1="283.93" x2="309.2" y2="283.93" stroke="#000" stroke-width="1.1" />
<line x1="306" y1="273.95" x2="309.2" y2="273.95" stroke="#000" stroke-width="1.1" />
<text x="304" y="277.15" font-size="9.3" text-anchor="end" font-weight="bold" fill="#000" >140</text>
<line x1="307.4" y1="263.98" x2="309.2" y2="263.98" stroke="#000" stroke-width="1.1" />
<line x1="306" y1="254" x2="309.2" y2="254" stroke="#000" stroke-width="1.1" />
<text x="304" y="257.2" font-size="9.3" text-anchor="end" font-weight="bold" fill="#000" >160</text>
<line x1="309.2" y1="424.3" x2="309.2" y2="427.5" stroke="#000" stroke-width="1.1" />
<text x="309.2" y="437.4" font-size="9.4" text-anchor="middle" font-weight="bold" fill="#000" >0.01</text>
<line x1="319.7" y1="424.3" x2="319.7" y2="426.1" stroke="#000" stroke-width="0.9" />
<line x1="325.84" y1="424.3" x2="325.84" y2="426.1" stroke="#000" stroke-width="0.9" />
<line x1="330.19" y1="424.3" x2="330.19" y2="426.1" stroke="#000" stroke-width="0.9" />
<line x1="333.57" y1="424.3" x2="333.57" y2="426.1" stroke="#000" stroke-width="0.9" />
<line x1="336.33" y1="424.3" x2="336.33" y2="426.1" stroke="#000" stroke-width="0.9" />
<line x1="338.67" y1="424.3" x2="338.67" y2="426.1" stroke="#000" stroke-width="0.9" />
<line x1="340.69" y1="424.3" x2="340.69" y2="426.1" stroke="#000" stroke-width="0.9" />
<line x1="342.47" y1="424.3" x2="342.47" y2="426.1" stroke="#000" stroke-width="0.9" />
<line x1="344.07" y1="424.3" x2="344.07" y2="427.5" stroke="#000" stroke-width="1.1" />
<text x="344.07" y="437.4" font-size="9.4" text-anchor="middle" font-weight="bold" fill="#000" >0.1</text>
<line x1="354.57" y1="424.3" x2="354.57" y2="426.1" stroke="#000" stroke-width="0.9" />
<line x1="360.71" y1="424.3" x2="360.71" y2="426.1" stroke="#000" stroke-width="0.9" />
<line x1="365.06" y1="424.3" x2="365.06" y2="426.1" stroke="#000" stroke-width="0.9" />
<line x1="368.44" y1="424.3" x2="368.44" y2="426.1" stroke="#000" stroke-width="0.9" />
<line x1="371.2" y1="424.3" x2="371.2" y2="426.1" stroke="#000" stroke-width="0.9" />
<line x1="373.54" y1="424.3" x2="373.54" y2="426.1" stroke="#000" stroke-width="0.9" />
<line x1="375.56" y1="424.3" x2="375.56" y2="426.1" stroke="#000" stroke-width="0.9" />
<line x1="377.34" y1="424.3" x2="377.34" y2="426.1" stroke="#000" stroke-width="0.9" />
<line x1="378.94" y1="424.3" x2="378.94" y2="427.5" stroke="#000" stroke-width="1.1" />
<text x="378.94" y="437.4" font-size="9.4" text-anchor="middle" font-weight="bold" fill="#000" >1</text>
<line x1="389.44" y1="424.3" x2="389.44" y2="426.1" stroke="#000" stroke-width="0.9" />
<line x1="395.58" y1="424.3" x2="395.58" y2="426.1" stroke="#000" stroke-width="0.9" />
<line x1="399.93" y1="424.3" x2="399.93" y2="426.1" stroke="#000" stroke-width="0.9" />
<line x1="403.31" y1="424.3" x2="403.31" y2="426.1" stroke="#000" stroke-width="0.9" />
<line x1="406.07" y1="424.3" x2="406.07" y2="426.1" stroke="#000" stroke-width="0.9" />
<line x1="408.41" y1="424.3" x2="408.41" y2="426.1" stroke="#000" stroke-width="0.9" />
<line x1="410.43" y1="424.3" x2="410.43" y2="426.1" stroke="#000" stroke-width="0.9" />
<line x1="412.21" y1="424.3" x2="412.21" y2="426.1" stroke="#000" stroke-width="0.9" />
<line x1="413.81" y1="424.3" x2="413.81" y2="427.5" stroke="#000" stroke-width="1.1" />
<text x="413.81" y="437.4" font-size="9.4" text-anchor="middle" font-weight="bold" fill="#000" >10</text>
<line x1="424.31" y1="424.3" x2="424.31" y2="426.1" stroke="#000" stroke-width="0.9" />
<line x1="430.45" y1="424.3" x2="430.45" y2="426.1" stroke="#000" stroke-width="0.9" />
<line x1="434.8" y1="424.3" x2="434.8" y2="426.1" stroke="#000" stroke-width="0.9" />
<line x1="438.18" y1="424.3" x2="438.18" y2="426.1" stroke="#000" stroke-width="0.9" />
<line x1="440.94" y1="424.3" x2="440.94" y2="426.1" stroke="#000" stroke-width="0.9" />
<line x1="443.28" y1="424.3" x2="443.28" y2="426.1" stroke="#000" stroke-width="0.9" />
<line x1="445.3" y1="424.3" x2="445.3" y2="426.1" stroke="#000" stroke-width="0.9" />
<line x1="447.08" y1="424.3" x2="447.08" y2="426.1" stroke="#000" stroke-width="0.9" />
<line x1="448.68" y1="424.3" x2="448.68" y2="427.5" stroke="#000" stroke-width="1.1" />
<text x="448.68" y="437.4" font-size="9.4" text-anchor="middle" font-weight="bold" fill="#000" >100</text>
<line x1="459.18" y1="424.3" x2="459.18" y2="426.1" stroke="#000" stroke-width="0.9" />
<line x1="465.32" y1="424.3" x2="465.32" y2="426.1" stroke="#000" stroke-width="0.9" />
<line x1="469.67" y1="424.3" x2="469.67" y2="426.1" stroke="#000" stroke-width="0.9" />
<line x1="473.05" y1="424.3" x2="473.05" y2="426.1" stroke="#000" stroke-width="0.9" />
<line x1="475.81" y1="424.3" x2="475.81" y2="426.1" stroke="#000" stroke-width="0.9" />
<line x1="478.15" y1="424.3" x2="478.15" y2="426.1" stroke="#000" stroke-width="0.9" />
<line x1="480.17" y1="424.3" x2="480.17" y2="426.1" stroke="#000" stroke-width="0.9" />
<line x1="481.95" y1="424.3" x2="481.95" y2="426.1" stroke="#000" stroke-width="0.9" />
<line x1="483.55" y1="424.3" x2="483.55" y2="427.5" stroke="#000" stroke-width="1.1" />
<text x="483.55" y="437.4" font-size="9.4" text-anchor="middle" font-weight="bold" fill="#000" >1000</text>
<line x1="494.05" y1="424.3" x2="494.05" y2="426.1" stroke="#000" stroke-width="0.9" />
<line x1="500.19" y1="424.3" x2="500.19" y2="426.1" stroke="#000" stroke-width="0.9" />
<line x1="504.54" y1="424.3" x2="504.54" y2="426.1" stroke="#000" stroke-width="0.9" />
<line x1="507.92" y1="424.3" x2="507.92" y2="426.1" stroke="#000" stroke-width="0.9" />
<line x1="510.68" y1="424.3" x2="510.68" y2="426.1" stroke="#000" stroke-width="0.9" />
<line x1="513.02" y1="424.3" x2="513.02" y2="426.1" stroke="#000" stroke-width="0.9" />
<line x1="515.04" y1="424.3" x2="515.04" y2="426.1" stroke="#000" stroke-width="0.9" />
<line x1="516.82" y1="424.3" x2="516.82" y2="426.1" stroke="#000" stroke-width="0.9" />
<line x1="518.42" y1="424.3" x2="518.42" y2="427.5" stroke="#000" stroke-width="1.1" />
<text x="518.42" y="437.4" font-size="9.4" text-anchor="middle" font-weight="bold" fill="#000" >10000</text>
<text transform="translate(285.4,339.3) rotate(-90)" font-size="12.1" text-anchor="middle" font-weight="bold">Amplitude(a.u.)</text>
<text x="419.8" y="450.5" font-size="11.9" text-anchor="middle" font-weight="bold" fill="#000" >Relaxation time(ms)</text>
<text x="272.2" y="247.7" font-size="16.3" text-anchor="start" font-weight="bold" fill="#000" >D</text>
<text x="461" y="264" font-size="9.9" text-anchor="start" font-weight="bold" fill="#000" >T</text>
<text x="467.9" y="266.6" font-size="6.7" text-anchor="start" font-weight="bold" fill="#000" style="stroke-width:0.1px" >21</text>
<text x="362.9" y="404" font-size="9.6" text-anchor="start" font-weight="bold" fill="#000" >T</text>
<text x="369.5" y="406" font-size="6.5" text-anchor="start" font-weight="bold" fill="#000" style="stroke-width:0.1px" >2b</text>
<text x="406.5" y="404" font-size="9.6" text-anchor="start" font-weight="bold" fill="#000" >T</text>
<text x="413.1" y="406" font-size="6.5" text-anchor="start" font-weight="bold" fill="#000" style="stroke-width:0.1px" >2b-1</text>
<line x1="336.1" y1="407.8" x2="438.0" y2="407.8" stroke="#EE3030" stroke-width="1.5" stroke-dasharray="4 2.8" stroke-dashoffset="4.8"/>
<line x1="336.1" y1="419.2" x2="438.0" y2="419.2" stroke="#EE3030" stroke-width="1.5" stroke-dasharray="4 2.8" stroke-dashoffset="4.8"/>
<line x1="336.1" y1="407.8" x2="336.1" y2="419.2" stroke="#EE3030" stroke-width="1.5" stroke-dasharray="4 2.8" stroke-dashoffset="4.8"/>
<line x1="438.0" y1="407.8" x2="438.0" y2="419.2" stroke="#EE3030" stroke-width="1.5" stroke-dasharray="4 2.8" stroke-dashoffset="0"/>
<line x1="387" y1="407.3" x2="383.9" y2="392" stroke="#111" stroke-width="1.2" />
<polygon points="383,388.1 381.2,393.2 385.6,392.4" fill="#111"/>
<line x1="483.2" y1="241.8" x2="502" y2="241.8" stroke="#515151" stroke-width="1.0" />
<rect x="491.2" y="240.4" width="2.8" height="2.8" fill="#515151"/>
<text x="502.5" y="244.65" font-size="7.95" text-anchor="start" font-weight="bold" fill="#000" style="stroke-width:0.1px" >WNPI/KC</text>
<line x1="483.2" y1="252.6" x2="502" y2="252.6" stroke="#F14040" stroke-width="1.0" />
<circle cx="492.6" cy="252.6" r="1.4" fill="#F14040"/>
<text x="503.9" y="255.45" font-size="7.95" text-anchor="start" font-weight="bold" fill="#000" style="stroke-width:0.1px" >U-200W</text>
<line x1="483.2" y1="263.4" x2="502" y2="263.4" stroke="#1A6FDF" stroke-width="1.0" />
<polygon points="492.6,261.79 494.14,264.52 491.06,264.52" fill="#1A6FDF"/>
<text x="503.9" y="266.25" font-size="7.95" text-anchor="start" font-weight="bold" fill="#000" style="stroke-width:0.1px" >U-0W-TG</text>
<line x1="483.2" y1="274.2" x2="502" y2="274.2" stroke="#37AD6B" stroke-width="1.0" />
<polygon points="492.6,275.81 494.14,273.08 491.06,273.08" fill="#37AD6B"/>
<text x="503.9" y="277.05" font-size="7.95" text-anchor="start" font-weight="bold" fill="#000" style="stroke-width:0.1px" >U-100W-TG</text>
<line x1="483.2" y1="285" x2="502" y2="285" stroke="#B177DE" stroke-width="1.0" />
<polygon points="492.6,283.32 494.28,285 492.6,286.68 490.92,285" fill="#B177DE"/>
<text x="503.9" y="287.85" font-size="7.95" text-anchor="start" font-weight="bold" fill="#000" style="stroke-width:0.1px" >U-200W-TG</text>
<line x1="483.2" y1="295.8" x2="502" y2="295.8" stroke="#DDA020" stroke-width="1.0" />
<polygon points="490.99,295.8 493.72,294.26 493.72,297.34" fill="#DDA020"/>
<text x="503.9" y="298.65" font-size="7.95" text-anchor="start" font-weight="bold" fill="#000" style="stroke-width:0.1px" >U-300W-TG</text>
<line x1="483.2" y1="306.6" x2="502" y2="306.6" stroke="#10C8C8" stroke-width="1.0" />
<polygon points="494.21,306.6 491.48,305.06 491.48,308.14" fill="#10C8C8"/>
<text x="503.9" y="309.45" font-size="7.95" text-anchor="start" font-weight="bold" fill="#000" style="stroke-width:0.1px" >U-400W-TG</text>
<rect x="332" y="271" width="122.2" height="99" fill="#fff" stroke="#444" stroke-width="1.3"/>
<clipPath id="ic"><rect x="332" y="271" width="122.2" height="99"/></clipPath>
<g clip-path="url(#ic)">
<polyline points="332,365.9 332.63,365.9 333.26,365.9 333.89,365.9 334.52,365.9 335.15,365.9 335.78,365.9 336.41,365.9 337.04,365.9 337.67,365.9 338.3,365.9 338.93,365.9 339.56,365.9 340.19,365.9 340.82,365.9 341.45,365.9 342.08,365.9 342.71,365.9 343.34,365.9 343.97,365.9 344.6,365.9 345.23,365.9 345.86,365.9 346.49,365.9 347.12,365.9 347.75,365.9 348.38,365.9 349.01,365.9 349.64,365.9 350.27,365.9 350.9,365.9 351.53,365.9 352.16,365.9 352.79,365.9 353.42,365.9 354.05,365.9 354.68,365.9 355.31,365.9 355.94,365.9 356.57,365.9 357.2,365.9 357.83,365.9 358.46,365.9 359.09,365.9 359.72,365.9 360.35,365.9 360.98,365.9 361.61,365.9 362.24,365.9 362.87,365.9 363.5,365.9 364.13,365.9 364.76,365.9 365.39,365.9 366.02,365.9 366.65,365.9 367.28,365.9 367.91,365.9 368.54,365.9 369.17,365.9 369.8,365.9 370.43,365.9 371.06,365.9 371.69,365.9 372.32,365.9 372.95,363.24 373.58,359.55 374.21,355.92 374.84,352.34 375.47,348.81 376.1,345.33 376.73,341.92 377.36,338.57 377.99,335.29 378.62,332.07 379.25,328.94 379.88,325.88 380.51,322.92 381.14,320.05 381.77,317.3 382.4,314.66 383.03,312.17 383.66,309.86 384.29,307.78 384.92,306.06 385.55,307.27 386.18,311.81 386.81,317.2 387.44,323.16 388.07,329.55 388.7,336.31 389.33,343.39 389.96,350.73 390.59,358.33 391.22,365.9 391.85,365.9 392.48,365.9 393.11,365.9 393.74,365.9 394.37,365.9 395,365.9 395.63,365.9 396.26,365.9 396.89,365.9 397.52,365.9 398.15,365.9 398.78,365.9 399.41,365.9 400.04,365.9 400.67,365.9 401.3,365.9 401.93,365.9 402.56,365.9 403.19,365.9 403.82,365.9 404.45,365.9 405.08,365.9 405.71,365.9 406.34,365.9 406.97,365.9 407.6,365.9 408.23,365.9 408.86,365.9 409.49,365.9 410.12,365.9 410.75,365.9 411.38,365.9 412.01,365.9 412.64,365.9 413.27,365.9 413.9,365.9 414.53,365.9 415.16,365.9 415.79,365.9 416.42,365.9 417.05,365.9 417.68,365.9 418.31,365.9 418.94,365.9 419.57,365.9 420.2,365.9 420.83,365.9 421.46,365.9 422.09,365.9 422.72,365.9 423.35,365.9 423.98,362.01 424.61,355.69 425.24,349.55 425.87,343.6 426.5,337.85 427.13,332.33 427.76,327.06 428.39,322.07 429.02,317.39 429.65,313.11 430.28,309.31 430.91,306.22 431.54,305.98 432.17,308.84 432.8,312.41 433.43,316.46 434.06,320.88 434.69,325.6 435.32,330.6 435.95,335.83 436.58,341.28 437.21,346.93 437.84,352.75 438.47,358.75 439.1,364.91 439.73,365.9 440.36,365.9 440.99,365.9 441.62,365.9 442.25,365.9 442.88,365.9 443.51,365.9 444.14,365.9 444.77,365.9 445.4,365.9 446.03,365.9 446.66,365.9 447.29,365.9 447.92,365.9 448.55,365.9 449.18,365.9 449.81,365.9 450.44,365.9 451.07,365.9 451.7,365.9 452.33,365.9 452.96,365.9 453.59,365.9 454.22,365.9 454.85,365.9 455.48,365.9 456.11,365.9 456.74,365.9 457.37,365.9 458,365.9 458.63,365.9 459.26,365.9 459.89,365.9 460.52,365.9 461.15,365.9" fill="none" stroke="#515151" stroke-width="0.9"/>
<path d="M373.58 359.55h0M375.47 348.81h0M377.36 338.57h0M379.25 328.94h0M381.14 320.05h0M383.03 312.17h0M384.92 306.06h0M386.81 317.2h0M388.7 336.31h0M390.59 358.33h0M424.61 355.69h0M426.5 337.85h0M428.39 322.07h0M430.28 309.31h0M432.17 308.84h0M434.06 320.88h0M435.95 335.83h0M437.84 352.75h0" stroke="#515151" stroke-width="1.9" stroke-linecap="round" fill="none"/>
<polyline points="332,365.9 332.63,365.9 333.26,365.9 333.89,365.9 334.52,365.9 335.15,365.9 335.78,365.9 336.41,365.9 337.04,365.9 337.67,365.9 338.3,365.9 338.93,365.9 339.56,365.9 340.19,365.9 340.82,365.9 341.45,365.9 342.08,365.9 342.71,365.9 343.34,365.9 343.97,365.9 344.6,365.9 345.23,365.9 345.86,365.9 346.49,365.9 347.12,365.9 347.75,365.9 348.38,365.9 349.01,365.9 349.64,365.9 350.27,365.9 350.9,365.9 351.53,365.9 352.16,365.9 352.79,365.9 353.42,365.9 354.05,365.9 354.68,365.9 355.31,365.9 355.94,365.9 356.57,365.9 357.2,365.9 357.83,365.9 358.46,365.9 359.09,365.9 359.72,365.9 360.35,365.9 360.98,365.9 361.61,365.9 362.24,365.9 362.87,365.9 363.5,365.9 364.13,365.9 364.76,365.9 365.39,365.9 366.02,365.9 366.65,365.9 367.28,365.9 367.91,365.9 368.54,365.9 369.17,365.9 369.8,365.9 370.43,365.9 371.06,365.9 371.69,365.9 372.32,365.9 372.95,365.9 373.58,365.9 374.21,365.9 374.84,365.9 375.47,365.9 376.1,365.9 376.73,365.9 377.36,365.9 377.99,365.9 378.62,365.9 379.25,365.9 379.88,365.9 380.51,365.9 381.14,365.9 381.77,365.9 382.4,365.9 383.03,365.9 383.66,365.9 384.29,365.9 384.92,365.9 385.55,365.9 386.18,365.9 386.81,365.9 387.44,362.18 388.07,358.82 388.7,355.77 389.33,353.02 389.96,350.6 390.59,348.51 391.22,346.76 391.85,345.38 392.48,344.38 393.11,343.82 393.74,343.85 394.37,344.47 395,345.52 395.63,346.97 396.26,348.8 396.89,350.98 397.52,353.5 398.15,356.34 398.78,359.51 399.41,362.98 400.04,365.9 400.67,365.9 401.3,365.9 401.93,365.9 402.56,365.9 403.19,365.9 403.82,365.9 404.45,365.9 405.08,365.9 405.71,365.9 406.34,365.9 406.97,365.9 407.6,365.9 408.23,365.9 408.86,365.9 409.49,365.9 410.12,365.9 410.75,365.9 411.38,365.9 412.01,365.9 412.64,365.9 413.27,365.9 413.9,365.9 414.53,365.9 415.16,365.9 415.79,365.9 416.42,365.9 417.05,365.9 417.68,365.9 418.31,362.82 418.94,356.69 419.57,350.74 420.2,344.99 420.83,339.45 421.46,334.15 422.09,329.11 422.72,324.37 423.35,319.98 423.98,316.02 424.61,312.65 425.24,310.57 425.87,312.79 426.5,315.9 427.13,319.52 427.76,323.52 428.39,327.83 429.02,332.41 429.65,337.21 430.28,342.23 430.91,347.44 431.54,352.82 432.17,358.36 432.8,364.06 433.43,365.9 434.06,365.9 434.69,365.9 435.32,365.9 435.95,365.9 436.58,365.9 437.21,365.9 437.84,365.9 438.47,365.9 439.1,365.9 439.73,365.9 440.36,365.9 440.99,365.9 441.62,365.9 442.25,365.9 442.88,365.9 443.51,365.9 444.14,365.9 444.77,365.9 445.4,365.9 446.03,365.9 446.66,365.9 447.29,365.9 447.92,365.9 448.55,365.9 449.18,365.9 449.81,365.9 450.44,365.9 451.07,365.9 451.7,365.9 452.33,365.9 452.96,365.9 453.59,365.9 454.22,365.9 454.85,365.9 455.48,365.9 456.11,365.9 456.74,365.9 457.37,365.9 458,365.9 458.63,365.9 459.26,365.9 459.89,365.9 460.52,365.9 461.15,365.9" fill="none" stroke="#F14040" stroke-width="0.9"/>
<path d="M388.7 355.77h0M390.59 348.51h0M392.48 344.38h0M394.37 344.47h0M396.26 348.8h0M398.15 356.34h0M418.94 356.69h0M420.83 339.45h0M422.72 324.37h0M424.61 312.65h0M426.5 315.9h0M428.39 327.83h0M430.28 342.23h0M432.17 358.36h0" stroke="#F14040" stroke-width="1.9" stroke-linecap="round" fill="none"/>
<polyline points="332,365.9 332.63,365.9 333.26,365.9 333.89,365.9 334.52,365.9 335.15,365.9 335.78,365.9 336.41,365.9 337.04,365.9 337.67,365.9 338.3,365.9 338.93,365.9 339.56,365.9 340.19,365.9 340.82,365.9 341.45,365.9 342.08,365.9 342.71,365.9 343.34,365.9 343.97,365.9 344.6,365.9 345.23,365.9 345.86,365.9 346.49,365.9 347.12,365.9 347.75,365.9 348.38,365.9 349.01,365.9 349.64,365.9 350.27,365.9 350.9,365.9 351.53,365.9 352.16,365.9 352.79,365.9 353.42,365.9 354.05,365.9 354.68,365.9 355.31,365.9 355.94,365.9 356.57,365.9 357.2,365.9 357.83,365.9 358.46,365.9 359.09,365.9 359.72,365.9 360.35,365.9 360.98,365.9 361.61,365.9 362.24,365.9 362.87,365.9 363.5,365.9 364.13,365.9 364.76,365.9 365.39,365.9 366.02,365.9 366.65,365.9 367.28,365.9 367.91,365.9 368.54,365.9 369.17,365.9 369.8,365.9 370.43,365.9 371.06,365.9 371.69,362.81 372.32,358.88 372.95,354.99 373.58,351.15 374.21,347.36 374.84,343.63 375.47,339.95 376.1,336.34 376.73,332.79 377.36,329.31 377.99,325.91 378.62,322.59 379.25,319.37 379.88,316.25 380.51,313.26 381.14,310.42 381.77,307.76 382.4,305.38 383.03,303.72 383.66,307.29 384.29,311.82 384.92,316.82 385.55,322.17 386.18,327.79 386.81,333.64 387.44,339.69 388.07,345.91 388.7,352.3 389.33,358.82 389.96,365.9 390.59,365.9 391.22,365.9 391.85,365.9 392.48,365.9 393.11,365.9 393.74,365.9 394.37,365.9 395,365.9 395.63,365.9 396.26,365.9 396.89,365.9 397.52,365.9 398.15,365.9 398.78,365.9 399.41,365.9 400.04,365.9 400.67,365.9 401.3,365.9 401.93,365.9 402.56,365.9 403.19,365.9 403.82,365.9 404.45,365.9 405.08,365.9 405.71,365.9 406.34,365.9 406.97,365.9 407.6,365.9 408.23,365.9 408.86,365.9 409.49,365.9 410.12,365.9 410.75,365.9 411.38,365.9 412.01,365.9 412.64,365.9 413.27,365.9 413.9,365.9 414.53,365.9 415.16,365.9 415.79,365.9 416.42,365.9 417.05,365.9 417.68,365.9 418.31,365.9 418.94,365.9 419.57,365.9 420.2,365.9 420.83,365.9 421.46,365.9 422.09,365.9 422.72,365.9 423.35,365.9 423.98,365.9 424.61,365.9 425.24,365.9 425.87,365.9 426.5,365.9 427.13,365.9 427.76,365.9 428.39,365.9 429.02,365.9 429.65,365.9 430.28,365.9 430.91,364.4 431.54,355.87 432.17,347.46 432.8,339.19 433.43,331.06 434.06,323.11 434.69,315.34 435.32,307.79 435.95,300.51 436.58,293.56 437.21,287.07 437.84,281.41 438.47,284.16 439.1,290.52 439.73,297.48 440.36,304.84 440.99,312.5 441.62,320.42 442.25,328.54 442.88,336.84 443.51,345.31 444.14,353.93 444.77,362.67 445.4,365.9 446.03,365.9 446.66,365.9 447.29,365.9 447.92,365.9 448.55,365.9 449.18,365.9 449.81,365.9 450.44,365.9 451.07,365.9 451.7,365.9 452.33,365.9 452.96,365.9 453.59,365.9 454.22,365.9 454.85,365.9 455.48,365.9 456.11,365.9 456.74,365.9 457.37,365.9 458,365.9 458.63,365.9 459.26,365.9 459.89,365.9 460.52,365.9 461.15,365.9" fill="none" stroke="#1A6FDF" stroke-width="0.9"/>
<path d="M371.69 362.81h0M373.58 351.15h0M375.47 339.95h0M377.36 329.31h0M379.25 319.37h0M381.14 310.42h0M383.03 303.72h0M384.92 316.82h0M386.81 333.64h0M388.7 352.3h0M432.17 347.46h0M434.06 323.11h0M435.95 300.51h0M437.84 281.41h0M439.73 297.48h0M441.62 320.42h0M443.51 345.31h0" stroke="#1A6FDF" stroke-width="1.9" stroke-linecap="round" fill="none"/>
<polyline points="332,365.9 332.63,365.9 333.26,365.9 333.89,365.9 334.52,365.9 335.15,365.9 335.78,365.9 336.41,365.9 337.04,365.9 337.67,365.9 338.3,365.9 338.93,365.9 339.56,365.9 340.19,365.9 340.82,365.9 341.45,365.9 342.08,365.9 342.71,365.9 343.34,365.9 343.97,365.9 344.6,365.9 345.23,365.9 345.86,365.9 346.49,365.9 347.12,365.9 347.75,365.9 348.38,365.9 349.01,365.9 349.64,365.9 350.27,365.9 350.9,365.9 351.53,365.9 352.16,365.9 352.79,365.9 353.42,365.9 354.05,365.9 354.68,365.9 355.31,365.9 355.94,365.9 356.57,365.9 357.2,365.9 357.83,365.9 358.46,365.9 359.09,365.9 359.72,365.9 360.35,365.9 360.98,365.9 361.61,365.9 362.24,365.9 362.87,365.9 363.5,365.9 364.13,365.9 364.76,365.9 365.39,365.9 366.02,365.9 366.65,365.9 367.28,365.9 367.91,365.9 368.54,365.9 369.17,365.9 369.8,365.9 370.43,365.9 371.06,365.9 371.69,365.9 372.32,365.9 372.95,365.9 373.58,365.9 374.21,365.9 374.84,365.9 375.47,365.9 376.1,365.9 376.73,365.9 377.36,365.9 377.99,365.9 378.62,365.9 379.25,365.9 379.88,365.9 380.51,365.9 381.14,365.9 381.77,365.9 382.4,363.88 383.03,361.56 383.66,359.49 384.29,357.7 384.92,356.18 385.55,354.95 386.18,354.04 386.81,353.46 387.44,353.32 388.07,353.84 388.7,354.9 389.33,356.43 389.96,358.39 390.59,360.76 391.22,363.53 391.85,365.9 392.48,365.9 393.11,365.9 393.74,365.9 394.37,365.9 395,365.9 395.63,365.9 396.26,365.9 396.89,365.9 397.52,365.9 398.15,365.9 398.78,365.9 399.41,365.9 400.04,365.9 400.67,365.9 401.3,365.9 401.93,365.9 402.56,365.9 403.19,365.9 403.82,365.9 404.45,365.9 405.08,365.9 405.71,365.9 406.34,365.9 406.97,365.9 407.6,365.9 408.23,365.9 408.86,365.9 409.49,365.9 410.12,365.9 410.75,365.9 411.38,365.9 412.01,365.9 412.64,365.9 413.27,365.9 413.9,365.9 414.53,365.9 415.16,365.9 415.79,365.9 416.42,365.9 417.05,365.9 417.68,365.9 418.31,364.79 418.94,358.48 419.57,352.32 420.2,346.31 420.83,340.47 421.46,334.8 422.09,329.32 422.72,324.04 423.35,318.98 423.98,314.17 424.61,309.65 425.24,305.46 425.87,301.68 426.5,298.46 427.13,296.42 427.76,298.92 428.39,302.46 429.02,306.58 429.65,311.14 430.28,316.04 430.91,321.25 431.54,326.73 432.17,332.44 432.8,338.37 433.43,344.5 434.06,350.82 434.69,357.31 435.32,363.97 435.95,365.9 436.58,365.9 437.21,365.9 437.84,365.9 438.47,365.9 439.1,365.9 439.73,365.9 440.36,365.9 440.99,365.9 441.62,365.9 442.25,365.9 442.88,365.9 443.51,365.9 444.14,365.9 444.77,365.9 445.4,365.9 446.03,365.9 446.66,365.9 447.29,365.9 447.92,365.9 448.55,365.9 449.18,365.9 449.81,365.9 450.44,365.9 451.07,365.9 451.7,365.9 452.33,365.9 452.96,365.9 453.59,365.9 454.22,365.9 454.85,365.9 455.48,365.9 456.11,365.9 456.74,365.9 457.37,365.9 458,365.9 458.63,365.9 459.26,365.9 459.89,365.9 460.52,365.9 461.15,365.9" fill="none" stroke="#37AD6B" stroke-width="0.9"/>
<path d="M383.03 361.56h0M384.92 356.18h0M386.81 353.46h0M388.7 354.9h0M390.59 360.76h0M418.94 358.48h0M420.83 340.47h0M422.72 324.04h0M424.61 309.65h0M426.5 298.46h0M428.39 302.46h0M430.28 316.04h0M432.17 332.44h0M434.06 350.82h0" stroke="#37AD6B" stroke-width="1.9" stroke-linecap="round" fill="none"/>
<polyline points="332,365.9 332.63,365.9 333.26,365.9 333.89,365.9 334.52,365.9 335.15,365.9 335.78,365.9 336.41,365.9 337.04,365.9 337.67,365.9 338.3,365.9 338.93,365.9 339.56,365.9 340.19,365.9 340.82,365.9 341.45,365.9 342.08,365.9 342.71,365.9 343.34,365.9 343.97,365.9 344.6,365.9 345.23,365.9 345.86,365.9 346.49,365.9 347.12,365.9 347.75,365.9 348.38,365.9 349.01,365.9 349.64,365.9 350.27,363.73 350.9,363.28 351.53,362.74 352.16,362.13 352.79,361.41 353.42,360.6 354.05,359.68 354.68,358.64 355.31,357.47 355.94,356.18 356.57,354.76 357.2,353.21 357.83,351.53 358.46,349.73 359.09,347.81 359.72,345.79 360.35,343.68 360.98,341.49 361.61,339.25 362.24,336.98 362.87,334.71 363.5,332.46 364.13,330.27 364.76,328.17 365.39,326.18 366.02,324.34 366.65,322.68 367.28,321.22 367.91,320 368.54,319.03 369.17,318.32 369.8,317.9 370.43,317.77 371.06,318.08 371.69,318.96 372.32,320.41 372.95,322.42 373.58,325.01 374.21,328.16 374.84,331.88 375.47,336.17 376.1,341.03 376.73,346.45 377.36,352.44 377.99,359.01 378.62,365.9 379.25,365.9 379.88,365.9 380.51,365.9 381.14,365.9 381.77,365.9 382.4,365.9 383.03,365.9 383.66,365.9 384.29,365.9 384.92,365.9 385.55,365.9 386.18,365.9 386.81,365.9 387.44,365.9 388.07,365.9 388.7,365.9 389.33,365.9 389.96,365.9 390.59,365.9 391.22,365.9 391.85,365.9 392.48,365.9 393.11,365.9 393.74,365.9 394.37,365.9 395,365.9 395.63,365.9 396.26,365.9 396.89,365.9 397.52,365.9 398.15,365.9 398.78,365.9 399.41,365.9 400.04,365.9 400.67,365.9 401.3,365.9 401.93,365.9 402.56,365.9 403.19,365.9 403.82,365.9 404.45,365.9 405.08,365.9 405.71,365.9 406.34,365.9 406.97,365.9 407.6,365.9 408.23,365.9 408.86,365.9 409.49,365.9 410.12,365.9 410.75,365.9 411.38,365.9 412.01,365.9 412.64,365.9 413.27,365.9 413.9,365.9 414.53,362.86 415.16,357.2 415.79,351.73 416.42,346.49 417.05,341.49 417.68,336.77 418.31,332.37 418.94,328.35 419.57,324.83 420.2,322.1 420.83,322.25 421.46,323.73 422.09,325.52 422.72,327.52 423.35,329.69 423.98,332.01 424.61,334.45 425.24,337.01 425.87,339.67 426.5,342.42 427.13,345.26 427.76,348.18 428.39,351.18 429.02,354.25 429.65,357.39 430.28,360.59 430.91,363.85 431.54,365.9 432.17,365.9 432.8,365.9 433.43,365.9 434.06,365.9 434.69,365.9 435.32,365.9 435.95,365.9 436.58,365.9 437.21,365.9 437.84,365.9 438.47,365.9 439.1,365.9 439.73,365.9 440.36,365.9 440.99,365.9 441.62,365.9 442.25,365.9 442.88,365.9 443.51,365.9 444.14,365.9 444.77,365.9 445.4,365.9 446.03,365.9 446.66,365.9 447.29,365.9 447.92,365.9 448.55,365.9 449.18,365.9 449.81,365.9 450.44,365.9 451.07,365.9 451.7,365.9 452.33,365.9 452.96,365.9 453.59,365.9 454.22,365.9 454.85,365.9 455.48,365.9 456.11,365.9 456.74,365.9 457.37,365.9 458,365.9 458.63,365.9 459.26,365.9 459.89,365.9 460.52,365.9 461.15,365.9" fill="none" stroke="#B177DE" stroke-width="0.9"/>
<path d="M350.9 363.28h0M352.79 361.41h0M354.68 358.64h0M356.57 354.76h0M358.46 349.73h0M360.35 343.68h0M362.24 336.98h0M364.13 330.27h0M366.02 324.34h0M367.91 320h0M369.8 317.9h0M371.69 318.96h0M373.58 325.01h0M375.47 336.17h0M377.36 352.44h0M415.16 357.2h0M417.05 341.49h0M418.94 328.35h0M420.83 322.25h0M422.72 327.52h0M424.61 334.45h0M426.5 342.42h0M428.39 351.18h0M430.28 360.59h0" stroke="#B177DE" stroke-width="1.9" stroke-linecap="round" fill="none"/>
<polyline points="332,365.9 332.63,365.9 333.26,365.9 333.89,365.9 334.52,365.9 335.15,365.9 335.78,365.9 336.41,365.9 337.04,365.9 337.67,365.9 338.3,365.9 338.93,365.9 339.56,365.9 340.19,365.9 340.82,365.9 341.45,365.9 342.08,365.9 342.71,365.9 343.34,365.9 343.97,365.9 344.6,365.9 345.23,365.9 345.86,365.9 346.49,365.9 347.12,365.9 347.75,365.9 348.38,365.9 349.01,365.9 349.64,365.9 350.27,365.9 350.9,365.9 351.53,365.9 352.16,365.9 352.79,365.9 353.42,365.9 354.05,365.9 354.68,365.9 355.31,365.9 355.94,365.9 356.57,365.9 357.2,365.9 357.83,365.9 358.46,365.9 359.09,365.9 359.72,365.9 360.35,365.9 360.98,365.9 361.61,365.9 362.24,365.9 362.87,365.9 363.5,365.9 364.13,365.9 364.76,365.9 365.39,365.9 366.02,365.9 366.65,365.9 367.28,365.9 367.91,365.9 368.54,365.9 369.17,365.9 369.8,365.9 370.43,365.9 371.06,365.9 371.69,365.9 372.32,365.9 372.95,365.9 373.58,365.9 374.21,365.9 374.84,365.9 375.47,365.9 376.1,365.9 376.73,365.9 377.36,365.9 377.99,365.9 378.62,365.9 379.25,365.9 379.88,365.9 380.51,365.9 381.14,365.9 381.77,365.9 382.4,365.9 383.03,365.9 383.66,365.9 384.29,365.9 384.92,365.9 385.55,365.9 386.18,365.9 386.81,365.9 387.44,365.9 388.07,365.9 388.7,365.9 389.33,365.9 389.96,365.9 390.59,365.9 391.22,362.04 391.85,354.9 392.48,348.37 393.11,342.46 393.74,337.2 394.37,332.59 395,328.68 395.63,325.48 396.26,323.05 396.89,321.44 397.52,320.83 398.15,321.73 398.78,323.89 399.41,327.12 400.04,331.35 400.67,336.5 401.3,342.55 401.93,349.46 402.56,357.2 403.19,365.9 403.82,365.9 404.45,365.9 405.08,365.9 405.71,365.9 406.34,365.9 406.97,365.9 407.6,365.9 408.23,365.9 408.86,365.9 409.49,365.9 410.12,365.9 410.75,365.9 411.38,365.9 412.01,365.9 412.64,365.9 413.27,365.9 413.9,365.9 414.53,365.9 415.16,365.9 415.79,365.9 416.42,365.9 417.05,365.9 417.68,359.56 418.31,353.86 418.94,348.34 419.57,343.01 420.2,337.88 420.83,332.99 421.46,328.36 422.09,324.03 422.72,320.06 423.35,316.55 423.98,313.71 424.61,313.62 425.24,316.25 425.87,319.52 426.5,323.22 427.13,327.26 427.76,331.57 428.39,336.13 429.02,340.91 429.65,345.88 430.28,351.03 430.91,356.34 431.54,361.81 432.17,365.9 432.8,365.9 433.43,365.9 434.06,365.9 434.69,365.9 435.32,365.9 435.95,365.9 436.58,365.9 437.21,365.9 437.84,365.9 438.47,365.9 439.1,365.9 439.73,365.9 440.36,365.9 440.99,365.9 441.62,365.9 442.25,365.9 442.88,365.9 443.51,365.9 444.14,365.9 444.77,365.9 445.4,365.9 446.03,365.9 446.66,365.9 447.29,365.9 447.92,365.9 448.55,365.9 449.18,365.9 449.81,365.9 450.44,365.9 451.07,365.9 451.7,365.9 452.33,365.9 452.96,365.9 453.59,365.9 454.22,365.9 454.85,365.9 455.48,365.9 456.11,365.9 456.74,365.9 457.37,365.9 458,365.9 458.63,365.9 459.26,365.9 459.89,365.9 460.52,365.9 461.15,365.9" fill="none" stroke="#DDA020" stroke-width="0.9"/>
<path d="M392.48 348.37h0M394.37 332.59h0M396.26 323.05h0M398.15 321.73h0M400.04 331.35h0M401.93 349.46h0M418.94 348.34h0M420.83 332.99h0M422.72 320.06h0M424.61 313.62h0M426.5 323.22h0M428.39 336.13h0M430.28 351.03h0" stroke="#DDA020" stroke-width="1.9" stroke-linecap="round" fill="none"/>
<polyline points="332,365.9 332.63,365.9 333.26,365.9 333.89,365.9 334.52,365.9 335.15,365.9 335.78,365.9 336.41,365.9 337.04,365.9 337.67,365.9 338.3,365.9 338.93,365.9 339.56,365.9 340.19,365.9 340.82,365.9 341.45,365.9 342.08,365.9 342.71,365.9 343.34,365.9 343.97,365.9 344.6,365.9 345.23,365.9 345.86,365.9 346.49,365.9 347.12,365.9 347.75,365.9 348.38,365.9 349.01,365.9 349.64,365.9 350.27,365.9 350.9,365.9 351.53,365.9 352.16,365.9 352.79,365.9 353.42,365.9 354.05,365.9 354.68,365.9 355.31,365.9 355.94,365.9 356.57,365.9 357.2,365.9 357.83,365.9 358.46,365.9 359.09,365.9 359.72,365.9 360.35,365.9 360.98,365.9 361.61,365.9 362.24,365.9 362.87,365.9 363.5,365.9 364.13,365.9 364.76,365.9 365.39,365.9 366.02,365.9 366.65,365.9 367.28,365.9 367.91,365.9 368.54,365.9 369.17,365.9 369.8,365.9 370.43,365.9 371.06,365.9 371.69,365.9 372.32,365.9 372.95,365.9 373.58,365.9 374.21,365.9 374.84,365.9 375.47,365.9 376.1,365.9 376.73,365.9 377.36,365.9 377.99,365.9 378.62,365.9 379.25,365.9 379.88,365.9 380.51,365.9 381.14,365.9 381.77,365.9 382.4,365.9 383.03,365.9 383.66,365.9 384.29,365.9 384.92,365.9 385.55,365.9 386.18,365.9 386.81,365.9 387.44,365.9 388.07,365.9 388.7,365.9 389.33,365.9 389.96,365.9 390.59,365.9 391.22,365.9 391.85,365.9 392.48,365.9 393.11,365.9 393.74,365.9 394.37,365.9 395,365.9 395.63,365.9 396.26,365.9 396.89,365.9 397.52,365.9 398.15,365.9 398.78,365.9 399.41,365.9 400.04,365.9 400.67,365.9 401.3,365.9 401.93,365.9 402.56,365.9 403.19,365.9 403.82,365.9 404.45,365.9 405.08,365.9 405.71,365.9 406.34,365.9 406.97,365.9 407.6,365.9 408.23,365.9 408.86,365.9 409.49,365.9 410.12,365.9 410.75,365.9 411.38,365.9 412.01,365.9 412.64,365.9 413.27,365.9 413.9,365.9 414.53,365.9 415.16,359.85 415.79,353.23 416.42,346.83 417.05,340.67 417.68,334.76 418.31,329.13 418.94,323.84 419.57,318.92 420.2,314.47 420.83,310.64 421.46,307.91 422.09,309.93 422.72,313.22 423.35,317.09 423.98,321.38 424.61,326.01 425.24,330.93 425.87,336.12 426.5,341.53 427.13,347.15 427.76,352.96 428.39,358.95 429.02,365.11 429.65,365.9 430.28,365.9 430.91,365.9 431.54,365.9 432.17,365.9 432.8,365.9 433.43,365.9 434.06,365.9 434.69,365.9 435.32,365.9 435.95,365.9 436.58,365.9 437.21,365.9 437.84,365.9 438.47,365.9 439.1,365.9 439.73,365.9 440.36,365.9 440.99,365.9 441.62,365.9 442.25,365.9 442.88,365.9 443.51,365.9 444.14,365.9 444.77,365.9 445.4,365.9 446.03,365.9 446.66,365.9 447.29,365.9 447.92,365.9 448.55,365.9 449.18,365.9 449.81,365.9 450.44,365.9 451.07,365.9 451.7,365.9 452.33,365.9 452.96,365.9 453.59,365.9 454.22,365.9 454.85,365.9 455.48,365.9 456.11,365.9 456.74,365.9 457.37,365.9 458,365.9 458.63,365.9 459.26,365.9 459.89,365.9 460.52,365.9 461.15,365.9" fill="none" stroke="#10C8C8" stroke-width="0.9"/>
<path d="M415.16 359.85h0M417.05 340.67h0M418.94 323.84h0M420.83 310.64h0M422.72 313.22h0M424.61 326.01h0M426.5 341.53h0M428.39 358.95h0" stroke="#10C8C8" stroke-width="1.9" stroke-linecap="round" fill="none"/>
<line x1="332.0" y1="365.9" x2="454.2" y2="365.9" stroke="#10C8C8" stroke-width="2.2"/>
</g>
<line x1="330" y1="365.9" x2="332" y2="365.9" stroke="#333" stroke-width="0.8" />
<text x="329" y="368.6" font-size="5.3" text-anchor="end" font-weight="bold" fill="#000" style="stroke-width:0.1px" >0.0</text>
<line x1="330.8" y1="356.35" x2="332" y2="356.35" stroke="#333" stroke-width="0.7" />
<line x1="330" y1="346.8" x2="332" y2="346.8" stroke="#333" stroke-width="0.8" />
<text x="329" y="349.5" font-size="5.3" text-anchor="end" font-weight="bold" fill="#000" style="stroke-width:0.1px" >0.5</text>
<line x1="330.8" y1="337.25" x2="332" y2="337.25" stroke="#333" stroke-width="0.7" />
<line x1="330" y1="327.7" x2="332" y2="327.7" stroke="#333" stroke-width="0.8" />
<text x="329" y="330.4" font-size="5.3" text-anchor="end" font-weight="bold" fill="#000" style="stroke-width:0.1px" >1.0</text>
<line x1="330.8" y1="318.15" x2="332" y2="318.15" stroke="#333" stroke-width="0.7" />
<line x1="330" y1="308.6" x2="332" y2="308.6" stroke="#333" stroke-width="0.8" />
<text x="329" y="311.3" font-size="5.3" text-anchor="end" font-weight="bold" fill="#000" style="stroke-width:0.1px" >1.5</text>
<line x1="330.8" y1="299.05" x2="332" y2="299.05" stroke="#333" stroke-width="0.7" />
<line x1="330" y1="289.5" x2="332" y2="289.5" stroke="#333" stroke-width="0.8" />
<text x="329" y="292.2" font-size="5.3" text-anchor="end" font-weight="bold" fill="#000" style="stroke-width:0.1px" >2.0</text>
<line x1="330.8" y1="279.95" x2="332" y2="279.95" stroke="#333" stroke-width="0.7" />
<line x1="330" y1="270.4" x2="332" y2="270.4" stroke="#333" stroke-width="0.8" />
<text x="329" y="273.1" font-size="5.3" text-anchor="end" font-weight="bold" fill="#000" style="stroke-width:0.1px" >2.5</text>
<line x1="332" y1="370" x2="332" y2="372" stroke="#333" stroke-width="0.8" />
<text x="332" y="377.5" font-size="5.4" text-anchor="middle" font-weight="bold" fill="#000" style="stroke-width:0.1px" >0.01</text>
<line x1="341.48" y1="370" x2="341.48" y2="371.2" stroke="#333" stroke-width="0.6" />
<line x1="347.03" y1="370" x2="347.03" y2="371.2" stroke="#333" stroke-width="0.6" />
<line x1="350.96" y1="370" x2="350.96" y2="371.2" stroke="#333" stroke-width="0.6" />
<line x1="354.02" y1="370" x2="354.02" y2="371.2" stroke="#333" stroke-width="0.6" />
<line x1="356.51" y1="370" x2="356.51" y2="371.2" stroke="#333" stroke-width="0.6" />
<line x1="358.62" y1="370" x2="358.62" y2="371.2" stroke="#333" stroke-width="0.6" />
<line x1="360.45" y1="370" x2="360.45" y2="371.2" stroke="#333" stroke-width="0.6" />
<line x1="362.06" y1="370" x2="362.06" y2="371.2" stroke="#333" stroke-width="0.6" />
<line x1="363.5" y1="370" x2="363.5" y2="372" stroke="#333" stroke-width="0.8" />
<text x="363.5" y="377.5" font-size="5.4" text-anchor="middle" font-weight="bold" fill="#000" style="stroke-width:0.1px" >0.1</text>
<line x1="372.98" y1="370" x2="372.98" y2="371.2" stroke="#333" stroke-width="0.6" />
<line x1="378.53" y1="370" x2="378.53" y2="371.2" stroke="#333" stroke-width="0.6" />
<line x1="382.46" y1="370" x2="382.46" y2="371.2" stroke="#333" stroke-width="0.6" />
<line x1="385.52" y1="370" x2="385.52" y2="371.2" stroke="#333" stroke-width="0.6" />
<line x1="388.01" y1="370" x2="388.01" y2="371.2" stroke="#333" stroke-width="0.6" />
<line x1="390.12" y1="370" x2="390.12" y2="371.2" stroke="#333" stroke-width="0.6" />
<line x1="391.95" y1="370" x2="391.95" y2="371.2" stroke="#333" stroke-width="0.6" />
<line x1="393.56" y1="370" x2="393.56" y2="371.2" stroke="#333" stroke-width="0.6" />
<line x1="395" y1="370" x2="395" y2="372" stroke="#333" stroke-width="0.8" />
<text x="395" y="377.5" font-size="5.4" text-anchor="middle" font-weight="bold" fill="#000" style="stroke-width:0.1px" >1</text>
<line x1="404.48" y1="370" x2="404.48" y2="371.2" stroke="#333" stroke-width="0.6" />
<line x1="410.03" y1="370" x2="410.03" y2="371.2" stroke="#333" stroke-width="0.6" />
<line x1="413.96" y1="370" x2="413.96" y2="371.2" stroke="#333" stroke-width="0.6" />
<line x1="417.02" y1="370" x2="417.02" y2="371.2" stroke="#333" stroke-width="0.6" />
<line x1="419.51" y1="370" x2="419.51" y2="371.2" stroke="#333" stroke-width="0.6" />
<line x1="421.62" y1="370" x2="421.62" y2="371.2" stroke="#333" stroke-width="0.6" />
<line x1="423.45" y1="370" x2="423.45" y2="371.2" stroke="#333" stroke-width="0.6" />
<line x1="425.06" y1="370" x2="425.06" y2="371.2" stroke="#333" stroke-width="0.6" />
<line x1="426.5" y1="370" x2="426.5" y2="372" stroke="#333" stroke-width="0.8" />
<text x="426.5" y="377.5" font-size="5.4" text-anchor="middle" font-weight="bold" fill="#000" style="stroke-width:0.1px" >10</text>
<line x1="435.98" y1="370" x2="435.98" y2="371.2" stroke="#333" stroke-width="0.6" />
<line x1="441.53" y1="370" x2="441.53" y2="371.2" stroke="#333" stroke-width="0.6" />
<line x1="445.46" y1="370" x2="445.46" y2="371.2" stroke="#333" stroke-width="0.6" />
<line x1="448.52" y1="370" x2="448.52" y2="371.2" stroke="#333" stroke-width="0.6" />
<line x1="451.01" y1="370" x2="451.01" y2="371.2" stroke="#333" stroke-width="0.6" />
<line x1="453.12" y1="370" x2="453.12" y2="371.2" stroke="#333" stroke-width="0.6" />
<text x="393.4" y="386" font-size="7.0" text-anchor="middle" font-weight="bold" fill="#000" style="stroke-width:0.1px" >Relaxation time(ms)</text>
<text transform="translate(320.9,321.0) rotate(-90)" style="stroke-width:0.1px" font-size="7.0" text-anchor="middle" font-weight="bold">Amplitude(a.u.)</text>
<line x1="332.8" y1="275.2" x2="343.1" y2="275.2" stroke="#515151" stroke-width="0.8" />
<circle cx="338" cy="275.2" r="0.8" fill="#515151"/>
<text x="343.7" y="276.95" font-size="5.0" text-anchor="start" font-weight="bold" fill="#000" style="stroke-width:0.1px" >WNPI/KC</text>
<line x1="332.8" y1="281.45" x2="343.1" y2="281.45" stroke="#F14040" stroke-width="0.8" />
<circle cx="338" cy="281.45" r="0.8" fill="#F14040"/>
<text x="343.7" y="283.2" font-size="5.0" text-anchor="start" font-weight="bold" fill="#000" style="stroke-width:0.1px" >U-200W</text>
<line x1="332.8" y1="287.7" x2="343.1" y2="287.7" stroke="#1A6FDF" stroke-width="0.8" />
<circle cx="338" cy="287.7" r="0.8" fill="#1A6FDF"/>
<text x="343.7" y="289.45" font-size="5.0" text-anchor="start" font-weight="bold" fill="#000" style="stroke-width:0.1px" >U-0W-TG</text>
<line x1="332.8" y1="293.95" x2="343.1" y2="293.95" stroke="#37AD6B" stroke-width="0.8" />
<circle cx="338" cy="293.95" r="0.8" fill="#37AD6B"/>
<text x="343.7" y="295.7" font-size="5.0" text-anchor="start" font-weight="bold" fill="#000" style="stroke-width:0.1px" >U-100W-TG</text>
<line x1="332.8" y1="300.2" x2="343.1" y2="300.2" stroke="#B177DE" stroke-width="0.8" />
<circle cx="338" cy="300.2" r="0.8" fill="#B177DE"/>
<text x="343.7" y="301.95" font-size="5.0" text-anchor="start" font-weight="bold" fill="#000" style="stroke-width:0.1px" >U-200W-TG</text>
<line x1="332.8" y1="306.45" x2="343.1" y2="306.45" stroke="#DDA020" stroke-width="0.8" />
<circle cx="338" cy="306.45" r="0.8" fill="#DDA020"/>
<text x="343.7" y="308.2" font-size="5.0" text-anchor="start" font-weight="bold" fill="#000" style="stroke-width:0.1px" >U-300W-TG</text>
<line x1="332.8" y1="312.7" x2="343.1" y2="312.7" stroke="#10C8C8" stroke-width="0.8" />
<circle cx="338" cy="312.7" r="0.8" fill="#10C8C8"/>
<text x="343.7" y="314.45" font-size="5.0" text-anchor="start" font-weight="bold" fill="#000" style="stroke-width:0.1px" >U-400W-TG</text>
<text x="380.3" y="300.6" font-size="6.4" text-anchor="start" font-weight="bold" fill="#000" style="stroke-width:0.1px" >T</text>
<text x="384" y="302.2" font-size="4.4" text-anchor="start" font-weight="bold" fill="#000" style="stroke-width:0.1px" >2b</text>
<text x="424" y="280.8" font-size="6.4" text-anchor="start" font-weight="bold" fill="#000" style="stroke-width:0.1px" >T</text>
<text x="427.8" y="282.6" font-size="4.4" text-anchor="start" font-weight="bold" fill="#000" style="stroke-width:0.1px" >2b-1</text>
</svg></body></html>
